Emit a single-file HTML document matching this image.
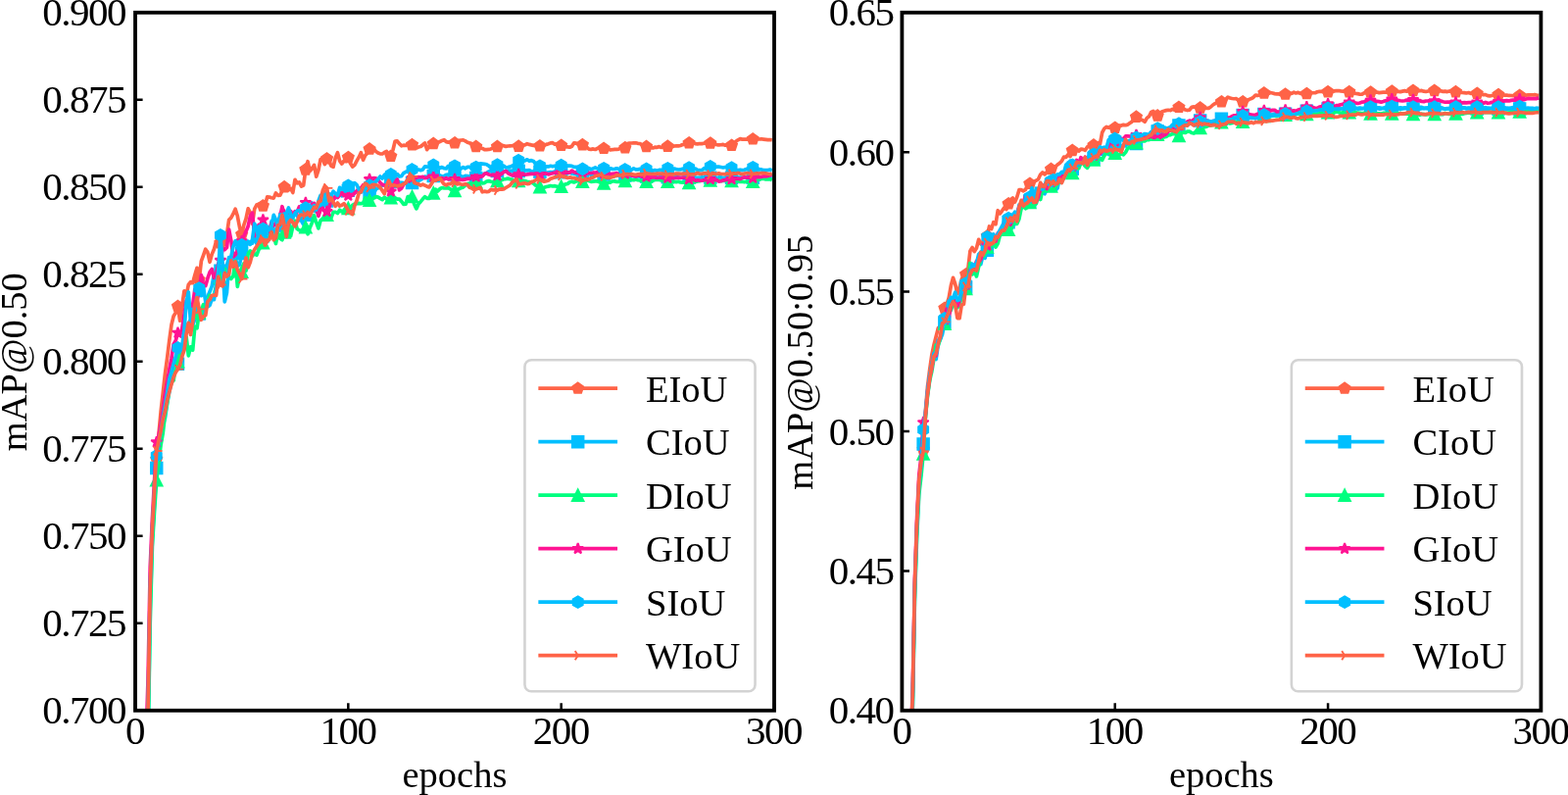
<!DOCTYPE html>
<html lang="en">
<head>
<meta charset="utf-8">
<title>mAP curves for IoU losses</title>
<style>
html,body{margin:0;padding:0;background:#fff;overflow:hidden}
svg{display:block}
text{font-family:"Liberation Serif",serif;font-size:38.5px;fill:#000}
text.t{font-size:41px;letter-spacing:-1.5px}
</style>
</head>
<body>
<svg width="1600" height="811" viewBox="0 0 1600 811">
<rect width="1600" height="811" fill="#fff"/>
<clipPath id="clipa"><rect x="138" y="12.8" width="652" height="712"/></clipPath>
<g clip-path="url(#clipa)">
<polyline points="138,760.4 140.17,760.4 142.35,760.4 144.52,760.4 146.69,760.4 148.87,760.4 151.04,724.8 153.21,600.2 155.39,539.68 157.56,504.22 159.73,468.48 161.91,443.56 164.08,420.06 166.25,400.84 168.43,381.26 170.6,365.24 172.77,347.44 174.95,331.42 177.12,322.52 179.29,318.96 181.47,312.55 183.64,327.15 185.81,311.84 187.99,296.89 190.16,301.16 192.33,290.48 194.51,287.76 196.68,288.7 198.85,280.49 201.03,273.39 203.2,285.5 205.37,266.27 207.55,260.37 209.72,254.17 211.89,257.36 214.07,267.34 216.24,259.36 218.41,254.17 220.59,246.25 222.76,245.27 224.93,247.76 227.11,248.88 229.28,249.18 231.45,239.24 233.63,224.26 235.8,222.11 237.97,218.21 240.15,213.23 242.32,220.32 244.49,231.74 246.67,239.22 248.84,229.51 251.01,223.12 253.19,212.87 255.36,216.91 257.53,228.18 259.71,213.18 261.88,209.04 264.05,208.24 266.23,210.51 268.4,210.02 270.57,209.05 272.75,200.8 274.92,201.12 277.09,201.74 279.27,202.1 281.44,196.9 283.61,199.34 285.79,199.23 287.96,194.44 290.13,190.8 292.31,190.41 294.48,193.85 296.65,192.18 298.83,196.5 301,183.32 303.17,186.86 305.35,185.81 307.52,190.14 309.69,189.02 311.87,173 314.04,164.72 316.21,174.43 318.39,171.98 320.56,168.37 322.73,180.12 324.91,173.55 327.08,162.68 329.25,161.47 331.43,167.52 333.6,161.96 335.77,164 337.95,169.32 340.12,170.19 342.29,160.95 344.47,155.75 346.64,164.15 348.81,167.09 350.99,164 353.16,164.54 355.33,160.68 357.51,166.53 359.68,170.15 361.85,168.26 364.03,164.19 366.2,160.42 368.37,155.75 370.55,163.14 372.72,158.5 374.89,156.27 377.07,152.05 379.24,153.22 381.41,151.62 383.59,154.51 385.76,156.01 387.93,156.89 390.11,156.98 392.28,155.51 394.45,154.51 396.63,158.29 398.8,159.45 400.97,153.01 403.15,144.04 405.32,143.9 407.49,146.69 409.67,148.77 411.84,148.17 414.01,148.34 416.19,147.07 418.36,147.12 420.53,147.73 422.71,149.89 424.88,150.97 427.05,150.04 429.23,149.54 431.4,147.76 433.57,145.89 435.75,152.67 437.92,149 440.09,146.71 442.27,146.57 444.44,146.91 446.61,145.42 448.79,144.59 450.96,143.42 453.13,142.64 455.31,144.64 457.48,145.16 459.65,144.93 461.83,144.65 464,145.89 466.17,144.74 468.35,143.4 470.52,142.98 472.69,142.8 474.87,143.85 477.04,145.28 479.21,145.89 481.39,146.44 483.56,149.95 485.73,149.58 487.91,150.15 490.08,150.87 492.25,151.43 494.43,152.67 496.6,152.67 498.77,152.46 500.95,151.93 503.12,150.81 505.29,150.43 507.47,149.58 509.64,149.44 511.81,148.64 513.99,148.72 516.16,149.37 518.33,148.97 520.51,148.8 522.68,148.7 524.85,148.55 527.03,149.24 529.2,149.34 531.37,149.58 533.55,148.46 535.72,147.79 537.89,146.63 540.07,147.4 542.24,147.92 544.41,148.34 546.59,148.76 548.76,148.41 550.93,148.97 553.11,148.4 555.28,148.32 557.45,147.37 559.63,146.72 561.8,145.89 563.97,145.69 566.15,147.23 568.32,146.95 570.49,147.95 572.67,148.35 574.84,148.19 577.01,149.59 579.19,149.83 581.36,150.2 583.53,149.2 585.71,145.89 587.88,146.17 590.05,147.21 592.23,148.19 594.4,147.73 596.57,148.58 598.75,150.19 600.92,152.05 603.09,152.35 605.27,151.93 607.44,152.52 609.61,151.29 611.79,151.15 613.96,150.86 616.13,151.43 618.31,151.39 620.48,151.51 622.65,152.88 624.83,152.7 627,152.32 629.17,152.39 631.35,152.09 633.52,151.34 635.69,151.1 637.87,150.82 640.04,146.5 642.21,146.13 644.39,146 646.56,145.89 648.73,145.78 650.91,146.32 653.08,146.5 655.25,148.01 657.43,148.16 659.6,149.58 661.77,149.8 663.95,150.47 666.12,151 668.29,150.2 670.47,150.33 672.64,149.62 674.81,150.43 676.99,149.12 679.16,148.7 681.33,149.34 683.51,149.41 685.68,149.66 687.85,148.99 690.03,148.92 692.2,148.97 694.37,148.45 696.55,147.59 698.72,147.05 700.89,146.88 703.07,145.89 705.24,145.61 707.41,145.82 709.59,146.63 711.76,146.85 713.93,146.5 716.11,146.67 718.28,146.18 720.45,146 722.63,146.48 724.8,146.13 726.97,146.42 729.15,146.84 731.32,147.61 733.49,147.93 735.67,147.73 737.84,147.4 740.01,148.25 742.19,147.73 744.36,147.98 746.53,148.35 748.71,146.54 750.88,144.24 753.05,142.8 755.23,141.68 757.4,142.11 759.57,142.02 761.75,142.18 763.92,141.78 766.09,142.91 768.27,141.94 770.44,142.28 772.61,141.93 774.79,142.01 776.96,141.77 779.13,142.05 781.31,142.31 783.48,142.57 785.65,142.59 787.83,142.74" fill="none" stroke="#ff6347" stroke-width="3.7" stroke-linejoin="round" stroke-linecap="butt"/>
<path d="M159.73 462.7L165.23 466.7L163.13 473.15L156.34 473.15L154.24 466.7ZM181.47 306.78L186.96 310.77L184.86 317.22L178.07 317.22L175.97 310.77ZM203.2 279.72L208.69 283.71L206.59 290.17L199.81 290.17L197.71 283.71ZM224.93 241.99L230.43 245.98L228.33 252.43L221.54 252.43L219.44 245.98ZM246.67 233.44L252.16 237.43L250.06 243.89L243.27 243.89L241.17 237.43ZM268.4 204.25L273.89 208.24L271.79 214.7L265.01 214.7L262.91 208.24ZM290.13 185.03L295.63 189.02L293.53 195.47L286.74 195.47L284.64 189.02ZM311.87 167.23L317.36 171.22L315.26 177.67L308.47 177.67L306.37 171.22ZM333.6 156.19L339.09 160.18L336.99 166.64L330.21 166.64L328.11 160.18ZM355.33 154.9L360.83 158.89L358.73 165.35L351.94 165.35L349.84 158.89ZM377.07 146.27L382.56 150.26L380.46 156.72L373.67 156.72L371.57 150.26ZM398.8 153.67L404.29 157.66L402.19 164.12L395.41 164.12L393.31 157.66ZM420.53 141.96L426.03 145.95L423.93 152.41L417.14 152.41L415.04 145.95ZM442.27 140.79L447.76 144.78L445.66 151.24L438.87 151.24L436.77 144.78ZM464 140.11L469.49 144.1L467.39 150.56L460.61 150.56L458.51 144.1ZM485.73 143.81L491.23 147.8L489.13 154.26L482.34 154.26L480.24 147.8ZM507.47 143.81L512.96 147.8L510.86 154.26L504.07 154.26L501.97 147.8ZM529.2 143.56L534.69 147.55L532.59 154.01L525.81 154.01L523.71 147.55ZM550.93 143.19L556.43 147.18L554.33 153.64L547.54 153.64L545.44 147.18ZM572.67 142.58L578.16 146.57L576.06 153.02L569.27 153.02L567.17 146.57ZM594.4 141.96L599.89 145.95L597.79 152.41L591.01 152.41L588.91 145.95ZM616.13 145.66L621.63 149.65L619.53 156.11L612.74 156.11L610.64 149.65ZM637.87 145.04L643.36 149.03L641.26 155.49L634.47 155.49L632.37 149.03ZM659.6 143.81L665.09 147.8L662.99 154.26L656.21 154.26L654.11 147.8ZM681.33 143.56L686.83 147.55L684.73 154.01L677.94 154.01L675.84 147.55ZM703.07 140.11L708.56 144.1L706.46 150.56L699.67 150.56L697.57 144.1ZM724.8 140.36L730.29 144.35L728.19 150.8L721.41 150.8L719.31 144.35ZM746.53 142.58L752.03 146.57L749.93 153.02L743.14 153.02L741.04 146.57ZM768.27 136.17L773.76 140.16L771.66 146.61L764.87 146.61L762.77 140.16Z" fill="#ff6347" stroke="#ff6347" stroke-width="1.93" stroke-linejoin="miter"/>
<polyline points="138,760.4 140.17,760.4 142.35,760.4 144.52,760.4 146.69,760.4 148.87,760.4 151.04,756.84 153.21,621.56 155.39,550.36 157.56,514.61 159.73,477.38 161.91,463.49 164.08,447.12 166.25,433.35 168.43,426.52 170.6,411.52 172.77,399.59 174.95,390.16 177.12,382.01 179.29,377.7 181.47,371.29 183.64,368.8 185.81,361.68 187.99,347.44 190.16,333.2 192.33,329.64 194.51,326.29 196.68,331.42 198.85,325.77 201.03,315.4 203.2,320.03 205.37,319.18 207.55,313.48 209.72,309.68 211.89,302.75 214.07,297.55 216.24,291.79 218.41,280.13 220.59,291.61 222.76,275.87 224.93,276.24 227.11,282.35 229.28,276.17 231.45,270.7 233.63,262.63 235.8,271.49 237.97,266.36 240.15,262.68 242.32,271.49 244.49,270.23 246.67,258.44 248.84,251.59 251.01,247.46 253.19,248.09 255.36,248.14 257.53,248.14 259.71,240.91 261.88,248.38 264.05,246.49 266.23,240.6 268.4,240.64 270.57,235.43 272.75,240.36 274.92,239.16 277.09,225.56 279.27,235.85 281.44,238.2 283.61,226.43 285.79,234.78 287.96,234.77 290.13,229.96 292.31,226.02 294.48,224.46 296.65,224.23 298.83,219.26 301,218.31 303.17,219.59 305.35,224.51 307.52,225.28 309.69,229.01 311.87,219.28 314.04,224.07 316.21,215.39 318.39,206.96 320.56,215.23 322.73,215.92 324.91,213.24 327.08,206.97 329.25,209.89 331.43,207.86 333.6,205.04 335.77,205.34 337.95,199.11 340.12,203.48 342.29,201.52 344.47,198.83 346.64,196.15 348.81,199.81 350.99,195.13 353.16,194.09 355.33,194.36 357.51,194.24 359.68,197.19 361.85,196.98 364.03,195.01 366.2,196.14 368.37,196.26 370.55,194.05 372.72,192.86 374.89,195.56 377.07,196.5 379.24,197 381.41,197.49 383.59,192.86 385.76,191.91 387.93,190.8 390.11,188.91 392.28,188.57 394.45,186.85 396.63,186.1 398.8,185.46 400.97,185.89 403.15,185.39 405.32,183.72 407.49,186.45 409.67,186.38 411.84,186.54 414.01,186.49 416.19,184.65 418.36,185.47 420.53,186.53 422.71,185.6 424.88,183.87 427.05,184.47 429.23,183.4 431.4,181.9 433.57,180.12 435.75,180.68 437.92,180.85 440.09,180.19 442.27,179.41 444.44,178.89 446.61,178.56 448.79,178.77 450.96,179.89 453.13,179.65 455.31,178.33 457.48,178.06 459.65,178.6 461.83,177.86 464,177.98 466.17,178.61 468.35,179.26 470.52,179.82 472.69,180.45 474.87,179.47 477.04,179.58 479.21,180.13 481.39,181.55 483.56,182.14 485.73,181.54 487.91,180.83 490.08,179.56 492.25,178.96 494.43,177.3 496.6,176.56 498.77,174.88 500.95,174.49 503.12,174.94 505.29,174.34 507.47,174.42 509.64,174 511.81,174.46 513.99,174.75 516.16,174.85 518.33,174.17 520.51,174.16 522.68,174.28 524.85,174.99 527.03,174.55 529.2,174.42 531.37,173.77 533.55,173.95 535.72,173.92 537.89,173.88 540.07,173.71 542.24,174.96 544.41,174.53 546.59,173.82 548.76,175.16 550.93,175.14 553.11,175.35 555.28,176.13 557.45,176.47 559.63,175.9 561.8,175.58 563.97,175.76 566.15,174.95 568.32,175.54 570.49,175.63 572.67,175.85 574.84,174.91 577.01,176.62 579.19,176.71 581.36,175.92 583.53,177.03 585.71,177.36 587.88,177.6 590.05,177.83 592.23,177.88 594.4,177.27 596.57,176.72 598.75,176.51 600.92,177.24 603.09,178.46 605.27,177.96 607.44,177.86 609.61,177.66 611.79,177.85 613.96,178.75 616.13,177.98 618.31,178.96 620.48,178.82 622.65,178.27 624.83,178.21 627,177.77 629.17,179.44 631.35,178.93 633.52,178.49 635.69,178.99 637.87,179.05 640.04,179.54 642.21,179.14 644.39,179.05 646.56,179.82 648.73,180.01 650.91,179.87 653.08,180.1 655.25,179.56 657.43,179.79 659.6,180.12 661.77,179.52 663.95,180.07 666.12,180.4 668.29,180.82 670.47,180.94 672.64,180.98 674.81,180.59 676.99,181 679.16,180.85 681.33,180.83 683.51,181.04 685.68,181.04 687.85,180.39 690.03,180.15 692.2,181.11 694.37,181.22 696.55,181.25 698.72,181.27 700.89,180.59 703.07,181.19 705.24,180.62 707.41,180.35 709.59,181.13 711.76,181.31 713.93,181.2 716.11,180.8 718.28,181.09 720.45,180.96 722.63,180.68 724.8,181.19 726.97,180.88 729.15,181.42 731.32,181.85 733.49,180.97 735.67,180.89 737.84,181.47 740.01,181.48 742.19,181.41 744.36,181.83 746.53,181.19 748.71,181.43 750.88,181.38 753.05,180.97 755.23,181.14 757.4,181.01 759.57,180.98 761.75,181.13 763.92,181.17 766.09,180.56 768.27,181.19 770.44,180.62 772.61,181.23 774.79,180.93 776.96,180.89 779.13,181.21 781.31,181.89 783.48,180.68 785.65,181.07 787.83,180.83" fill="none" stroke="#00bfff" stroke-width="3.7" stroke-linejoin="round" stroke-linecap="butt"/>
<path d="M153.96 471.61L165.51 471.61L165.51 483.16L153.96 483.16ZM175.69 365.52L187.24 365.52L187.24 377.07L175.69 377.07ZM197.42 314.25L208.97 314.25L208.97 325.8L197.42 325.8ZM219.16 270.47L230.71 270.47L230.71 282.02L219.16 282.02ZM240.89 252.67L252.44 252.67L252.44 264.22L240.89 264.22ZM262.62 234.87L274.17 234.87L274.17 246.42L262.62 246.42ZM284.36 224.19L295.91 224.19L295.91 235.74L284.36 235.74ZM306.09 213.51L317.64 213.51L317.64 225.06L306.09 225.06ZM327.83 199.27L339.38 199.27L339.38 210.82L327.83 210.82ZM349.56 188.59L361.11 188.59L361.11 200.14L349.56 200.14ZM371.29 190.72L382.84 190.72L382.84 202.27L371.29 202.27ZM393.03 179.68L404.57 179.68L404.57 191.23L393.03 191.23ZM414.76 180.75L426.31 180.75L426.31 192.3L414.76 192.3ZM436.49 173.63L448.04 173.63L448.04 185.18L436.49 185.18ZM458.23 172.21L469.77 172.21L469.77 183.76L458.23 183.76ZM479.96 175.77L491.51 175.77L491.51 187.32L479.96 187.32ZM501.69 168.65L513.24 168.65L513.24 180.2L501.69 180.2ZM523.43 168.65L534.98 168.65L534.98 180.2L523.43 180.2ZM545.16 169.36L556.71 169.36L556.71 180.91L545.16 180.91ZM566.89 170.07L578.44 170.07L578.44 181.62L566.89 181.62ZM588.62 171.5L600.17 171.5L600.17 183.05L588.62 183.05ZM610.36 172.21L621.91 172.21L621.91 183.76L610.36 183.76ZM632.09 173.28L643.64 173.28L643.64 184.83L632.09 184.83ZM653.83 174.35L665.38 174.35L665.38 185.9L653.83 185.9ZM675.56 175.06L687.11 175.06L687.11 186.61L675.56 186.61ZM697.29 175.41L708.84 175.41L708.84 186.96L697.29 186.96ZM719.02 175.41L730.57 175.41L730.57 186.96L719.02 186.96ZM740.76 175.41L752.31 175.41L752.31 186.96L740.76 186.96ZM762.49 175.41L774.04 175.41L774.04 186.96L762.49 186.96Z" fill="#00bfff" stroke="#00bfff" stroke-width="1.93" stroke-linejoin="miter"/>
<polyline points="138,760.4 140.17,760.4 142.35,760.4 144.52,760.4 146.69,760.4 148.87,760.4 151.04,760.4 153.21,635.8 155.39,557.48 157.56,521.58 159.73,489.84 161.91,471.6 164.08,454.24 166.25,442.04 168.43,423.13 170.6,411.52 172.77,397.5 174.95,390.16 177.12,388.23 179.29,372.35 181.47,368.8 183.64,361.17 185.81,353.04 187.99,346.4 190.16,343.88 192.33,362.91 194.51,353.85 196.68,357.16 198.85,333.2 201.03,334.69 203.2,318.96 205.37,316.77 207.55,310.56 209.72,310.25 211.89,307.11 214.07,301.23 216.24,303.63 218.41,300.48 220.59,291.72 222.76,290.98 224.93,283.36 227.11,284.54 229.28,274.37 231.45,277 233.63,282.31 235.8,284.43 237.97,281.54 240.15,266.34 242.32,292.36 244.49,280.86 246.67,277.31 248.84,269 251.01,276.23 253.19,258.77 255.36,256.02 257.53,260.98 259.71,258.8 261.88,260.24 264.05,254.69 266.23,251.39 268.4,247.76 270.57,243.15 272.75,245.44 274.92,241.22 277.09,239.53 279.27,240.38 281.44,248.52 283.61,237.76 285.79,243.16 287.96,244.75 290.13,237.08 292.31,234.36 294.48,228.88 296.65,240.9 298.83,230.97 301,225.24 303.17,233.52 305.35,234.82 307.52,235.43 309.69,235.48 311.87,231.74 314.04,238.82 316.21,232.17 318.39,227.28 320.56,219.69 322.73,226.93 324.91,232.89 327.08,224.94 329.25,223.2 331.43,219.85 333.6,219.28 335.77,223.39 337.95,222.05 340.12,216.45 342.29,216.23 344.47,217.5 346.64,214.18 348.81,215.96 350.99,214.45 353.16,211.53 355.33,212.43 357.51,212.01 359.68,209.46 361.85,208.18 364.03,207.57 366.2,207.39 368.37,207.75 370.55,207.11 372.72,201.74 374.89,204.28 377.07,204.31 379.24,203.87 381.41,201.81 383.59,200.65 385.76,201.1 387.93,202.43 390.11,203.7 392.28,201.26 394.45,202.95 396.63,203.78 398.8,201.85 400.97,199.97 403.15,201.89 405.32,203.03 407.49,203.08 409.67,205.41 411.84,208.4 414.01,208.12 416.19,200.62 418.36,200.62 420.53,200.62 422.71,208.28 424.88,212.94 427.05,207.97 429.23,205.66 431.4,203.08 433.57,200.71 435.75,202.37 437.92,202.43 440.09,200.35 442.27,196.94 444.44,193.22 446.61,195.05 448.79,192.72 450.96,191.53 453.13,191.99 455.31,191.92 457.48,191.66 459.65,193.05 461.83,194.68 464,194.45 466.17,193.75 468.35,192.73 470.52,191.68 472.69,190.93 474.87,188.92 477.04,187.44 479.21,187 481.39,187.58 483.56,186.03 485.73,185.82 487.91,187.35 490.08,185.82 492.25,186.8 494.43,186.62 496.6,184.96 498.77,184.62 500.95,185.3 503.12,185.51 505.29,184.72 507.47,184.59 509.64,184.2 511.81,183.69 513.99,182.78 516.16,182.56 518.33,182.13 520.51,182.7 522.68,183.26 524.85,184.41 527.03,184.95 529.2,184.59 531.37,184.74 533.55,184.19 535.72,184.48 537.89,185.21 540.07,185.61 542.24,186.22 544.41,187.03 546.59,189.08 548.76,189.78 550.93,190.76 553.11,191.65 555.28,191.26 557.45,190.51 559.63,190.12 561.8,189.52 563.97,190.01 566.15,189.69 568.32,190.3 570.49,190.95 572.67,190.14 574.84,189.37 577.01,187.89 579.19,187.45 581.36,185.7 583.53,185.21 585.71,185.97 587.88,185.07 590.05,184.26 592.23,185.3 594.4,185.21 596.57,184.03 598.75,184.16 600.92,184.51 603.09,185.35 605.27,185.14 607.44,184.93 609.61,184.9 611.79,185.7 613.96,186.7 616.13,187.06 618.31,187.38 620.48,186.31 622.65,186.19 624.83,184.99 627,184.9 629.17,185.36 631.35,185.28 633.52,185.6 635.69,184.87 637.87,184.59 640.04,183.36 642.21,183.09 644.39,183.46 646.56,183.72 648.73,182.99 650.91,183.72 653.08,184.02 655.25,184.75 657.43,185.54 659.6,185.21 661.77,185.29 663.95,185.88 666.12,184.27 668.29,183.51 670.47,183.36 672.64,183.35 674.81,183.96 676.99,184.67 679.16,185.29 681.33,185.21 683.51,185.23 685.68,185.47 687.85,185.46 690.03,185.58 692.2,185.21 694.37,185.97 696.55,186.14 698.72,185.79 700.89,186.61 703.07,186.44 705.24,186.18 707.41,186.08 709.59,185.5 711.76,184.97 713.93,184.59 716.11,184.24 718.28,184.19 720.45,184.77 722.63,184.55 724.8,183.98 726.97,183.94 729.15,185.09 731.32,184.57 733.49,183.83 735.67,184.59 737.84,184.43 740.01,184.51 742.19,184.34 744.36,184.57 746.53,184.59 748.71,184.2 750.88,184.79 753.05,184.66 755.23,185.51 757.4,185.21 759.57,185.69 761.75,185.2 763.92,185.38 766.09,185.5 768.27,185.21 770.44,184.58 772.61,183.5 774.79,183.24 776.96,182.33 779.13,182.24 781.31,182.85 783.48,182.94 785.65,182.87 787.83,183.68" fill="none" stroke="#00ff7f" stroke-width="3.7" stroke-linejoin="round" stroke-linecap="butt"/>
<path d="M159.73 484.06L153.96 495.61L165.51 495.61ZM181.47 363.02L175.69 374.57L187.24 374.57ZM203.2 313.19L197.42 324.74L208.97 324.74ZM224.93 277.59L219.16 289.14L230.71 289.14ZM246.67 271.53L240.89 283.08L252.44 283.08ZM268.4 241.99L262.62 253.54L274.17 253.54ZM290.13 231.31L284.36 242.86L295.91 242.86ZM311.87 225.96L306.09 237.51L317.64 237.51ZM333.6 213.51L327.83 225.06L339.38 225.06ZM355.33 206.66L349.56 218.21L361.11 218.21ZM377.07 198.54L371.29 210.09L382.84 210.09ZM398.8 196.07L393.03 207.62L404.57 207.62ZM420.53 194.84L414.76 206.39L426.31 206.39ZM442.27 191.17L436.49 202.72L448.04 202.72ZM464 188.68L458.23 200.23L469.77 200.23ZM485.73 180.05L479.96 191.6L491.51 191.6ZM507.47 178.82L501.69 190.37L513.24 190.37ZM529.2 178.82L523.43 190.37L534.98 190.37ZM550.93 184.98L545.16 196.53L556.71 196.53ZM572.67 184.36L566.89 195.91L578.44 195.91ZM594.4 179.43L588.62 190.98L600.17 190.98ZM616.13 181.28L610.36 192.83L621.91 192.83ZM637.87 178.82L632.09 190.37L643.64 190.37ZM659.6 179.43L653.83 190.98L665.38 190.98ZM681.33 179.43L675.56 190.98L687.11 190.98ZM703.07 180.67L697.29 192.22L708.84 192.22ZM724.8 178.2L719.02 189.75L730.57 189.75ZM746.53 178.82L740.76 190.37L752.31 190.37ZM768.27 179.43L762.49 190.98L774.04 190.98Z" fill="#00ff7f" stroke="#00ff7f" stroke-width="1.93" stroke-linejoin="miter"/>
<polyline points="138,760.4 140.17,760.4 142.35,760.4 144.52,760.4 146.69,760.4 148.87,760.4 151.04,692.76 153.21,578.84 155.39,529 157.56,490.46 159.73,451.04 161.91,444.4 164.08,432.88 166.25,418.77 168.43,402.07 170.6,390.16 172.77,376.9 174.95,365.24 177.12,351.19 179.29,347.44 181.47,339.61 183.64,342.1 185.81,334.98 187.99,320.74 190.16,306.5 192.33,311.84 194.51,317.6 196.68,310.65 198.85,295.02 201.03,307.01 203.2,296.89 205.37,280.65 207.55,290.56 209.72,291.65 211.89,283.94 214.07,277.57 216.24,274.57 218.41,283.46 220.59,279.59 222.76,269.63 224.93,265.56 227.11,254.05 229.28,254.62 231.45,252.5 233.63,234.16 235.8,245.33 237.97,262 240.15,259.9 242.32,255.34 244.49,246.35 246.67,245.98 248.84,240.69 251.01,236.13 253.19,230.7 255.36,220.7 257.53,217.07 259.71,240.64 261.88,233.57 264.05,229.49 266.23,230.47 268.4,224.26 270.57,228.86 272.75,237.39 274.92,234.86 277.09,227.8 279.27,229.96 281.44,227.33 283.61,227.85 285.79,221.09 287.96,210.71 290.13,219.28 292.31,223.54 294.48,221 296.65,215.36 298.83,219.37 301,215.72 303.17,216.34 305.35,210.82 307.52,210.9 309.69,210.76 311.87,206.82 314.04,211.45 316.21,213.41 318.39,208.25 320.56,207.37 322.73,212.16 324.91,220.4 327.08,213.61 329.25,212.28 331.43,215.75 333.6,215.72 335.77,212.29 337.95,203.66 340.12,203.84 342.29,199.83 344.47,201.48 346.64,199.04 348.81,196.43 350.99,199.62 353.16,198.71 355.33,199.44 357.51,200.01 359.68,199.29 361.85,196.94 364.03,194.73 366.2,192.25 368.37,191.94 370.55,188.65 372.72,188.78 374.89,185.43 377.07,182.87 379.24,185.04 381.41,181.63 383.59,181.94 385.76,183.63 387.93,186.48 390.11,188.38 392.28,189.03 394.45,190.8 396.63,192.15 398.8,195.19 400.97,190.03 403.15,186.2 405.32,182.87 407.49,193.96 409.67,192.11 411.84,188.17 414.01,186.4 416.19,182.87 418.36,183.52 420.53,181.63 422.71,182.4 424.88,181.14 427.05,180.66 429.23,180.75 431.4,180.4 433.57,181.61 435.75,181.28 437.92,179.69 440.09,180.68 442.27,180.28 444.44,179.86 446.61,181.55 448.79,182.04 450.96,181.63 453.13,182.78 455.31,181.57 457.48,182.82 459.65,182.43 461.83,181.95 464,182.87 466.17,183.11 468.35,182.8 470.52,183.31 472.69,183.33 474.87,182.87 477.04,182.17 479.21,182.47 481.39,181.44 483.56,180.67 485.73,180.4 487.91,180.73 490.08,180.4 492.25,179.68 494.43,177.32 496.6,176.7 498.77,178.06 500.95,178.59 503.12,178.6 505.29,179.36 507.47,179.17 509.64,177.52 511.81,177.19 513.99,175.49 516.16,174.24 518.33,176.57 520.51,177.8 522.68,178.8 524.85,178.92 527.03,177.93 529.2,177.94 531.37,177.94 533.55,178.07 535.72,178.16 537.89,177.95 540.07,177.64 542.24,177.32 544.41,177.47 546.59,177.52 548.76,177.93 550.93,177.94 553.11,177.69 555.28,176.9 557.45,176.98 559.63,177.89 561.8,177.24 563.97,176.7 566.15,176.15 568.32,176.23 570.49,175.82 572.67,176.09 574.84,176.18 577.01,176.13 579.19,175.81 581.36,176.18 583.53,174.12 585.71,175.47 587.88,176.14 590.05,176.64 592.23,176.09 594.4,176.09 596.57,176.87 598.75,177.13 600.92,176.34 603.09,176.3 605.27,175.97 607.44,176.15 609.61,175.81 611.79,177.09 613.96,176.57 616.13,176.7 618.31,177.31 620.48,176.53 622.65,177.6 624.83,177.27 627,177.18 629.17,176.6 631.35,177.6 633.52,177.26 635.69,177 637.87,177.32 640.04,177.94 642.21,178.26 644.39,179.13 646.56,179.19 648.73,179.93 650.91,179.18 653.08,179.04 655.25,180.31 657.43,179.82 659.6,180.4 661.77,181.18 663.95,181.16 666.12,180.63 668.29,180.86 670.47,181.47 672.64,181.02 674.81,181.27 676.99,181.63 679.16,182.09 681.33,181.63 683.51,181.14 685.68,181.77 687.85,181.63 690.03,181.43 692.2,181.17 694.37,181.51 696.55,181.02 698.72,181.27 700.89,181.88 703.07,182.87 705.24,182.35 707.41,182.92 709.59,184.24 711.76,183.7 713.93,184.1 716.11,184.26 718.28,183.76 720.45,183.7 722.63,182.96 724.8,182.87 726.97,183.67 729.15,183.53 731.32,183.52 733.49,185.12 735.67,184.71 737.84,183.95 740.01,183.6 742.19,183 744.36,183.08 746.53,182.87 748.71,182.59 750.88,182.39 753.05,181.99 755.23,182.63 757.4,181.63 759.57,180.79 761.75,181.21 763.92,181.25 766.09,181.41 768.27,181.63 770.44,181.04 772.61,180.59 774.79,180.61 776.96,180.35 779.13,179.74 781.31,179.81 783.48,179.68 785.65,178.72 787.83,178.7" fill="none" stroke="#ff1493" stroke-width="3.7" stroke-linejoin="round" stroke-linecap="butt"/>
<path d="M159.73 445.26L161.03 449.25L165.23 449.25L161.83 451.72L163.13 455.71L159.73 453.24L156.34 455.71L157.64 451.72L154.24 449.25L158.44 449.25ZM181.47 333.83L182.76 337.82L186.96 337.82L183.56 340.29L184.86 344.28L181.47 341.81L178.07 344.28L179.37 340.29L175.97 337.82L180.17 337.82ZM203.2 291.11L204.5 295.1L208.69 295.1L205.3 297.57L206.59 301.56L203.2 299.09L199.81 301.56L201.1 297.57L197.71 295.1L201.9 295.1ZM224.93 259.79L226.23 263.78L230.43 263.78L227.03 266.24L228.33 270.23L224.93 267.77L221.54 270.23L222.84 266.24L219.44 263.78L223.64 263.78ZM246.67 240.2L247.96 244.2L252.16 244.2L248.76 246.66L250.06 250.65L246.67 248.19L243.27 250.65L244.57 246.66L241.17 244.2L245.37 244.2ZM268.4 218.49L269.7 222.48L273.89 222.48L270.5 224.95L271.79 228.94L268.4 226.47L265.01 228.94L266.3 224.95L262.91 222.48L267.1 222.48ZM290.13 213.51L291.43 217.5L295.63 217.5L292.23 219.96L293.53 223.95L290.13 221.49L286.74 223.95L288.04 219.96L284.64 217.5L288.84 217.5ZM311.87 201.04L313.16 205.04L317.36 205.04L313.96 207.5L315.26 211.49L311.87 209.03L308.47 211.49L309.77 207.5L306.37 205.04L310.57 205.04ZM333.6 209.95L334.9 213.94L339.09 213.94L335.7 216.4L336.99 220.39L333.6 217.93L330.21 220.39L331.5 216.4L328.11 213.94L332.3 213.94ZM355.33 193.66L356.63 197.66L360.83 197.66L357.43 200.12L358.73 204.11L355.33 201.65L351.94 204.11L353.24 200.12L349.84 197.66L354.04 197.66ZM377.07 177.09L378.36 181.08L382.56 181.08L379.16 183.55L380.46 187.54L377.07 185.07L373.67 187.54L374.97 183.55L371.57 181.08L375.77 181.08ZM398.8 189.42L400.1 193.41L404.29 193.41L400.9 195.87L402.19 199.86L398.8 197.4L395.41 199.86L396.7 195.87L393.31 193.41L397.5 193.41ZM420.53 175.86L421.83 179.85L426.03 179.85L422.63 182.31L423.93 186.31L420.53 183.84L417.14 186.31L418.44 182.31L415.04 179.85L419.24 179.85ZM442.27 174.51L443.56 178.5L447.76 178.5L444.36 180.96L445.66 184.95L442.27 182.49L438.87 184.95L440.17 180.96L436.77 178.5L440.97 178.5ZM464 177.09L465.3 181.08L469.49 181.08L466.1 183.55L467.39 187.54L464 185.07L460.61 187.54L461.9 183.55L458.51 181.08L462.7 181.08ZM485.73 174.63L487.03 178.62L491.23 178.62L487.83 181.08L489.13 185.07L485.73 182.61L482.34 185.07L483.64 181.08L480.24 178.62L484.44 178.62ZM507.47 173.39L508.76 177.38L512.96 177.38L509.56 179.85L510.86 183.84L507.47 181.37L504.07 183.84L505.37 179.85L501.97 177.38L506.17 177.38ZM529.2 172.16L530.5 176.15L534.69 176.15L531.3 178.62L532.59 182.61L529.2 180.14L525.81 182.61L527.1 178.62L523.71 176.15L527.9 176.15ZM550.93 172.16L552.23 176.15L556.43 176.15L553.03 178.62L554.33 182.61L550.93 180.14L547.54 182.61L548.84 178.62L545.44 176.15L549.64 176.15ZM572.67 170.31L573.96 174.3L578.16 174.3L574.76 176.77L576.06 180.76L572.67 178.29L569.27 180.76L570.57 176.77L567.17 174.3L571.37 174.3ZM594.4 170.31L595.7 174.3L599.89 174.3L596.5 176.77L597.79 180.76L594.4 178.29L591.01 180.76L592.3 176.77L588.91 174.3L593.1 174.3ZM616.13 170.93L617.43 174.92L621.63 174.92L618.23 177.38L619.53 181.37L616.13 178.91L612.74 181.37L614.04 177.38L610.64 174.92L614.84 174.92ZM637.87 171.54L639.16 175.53L643.36 175.53L639.96 178L641.26 181.99L637.87 179.52L634.47 181.99L635.77 178L632.37 175.53L636.57 175.53ZM659.6 174.63L660.9 178.62L665.09 178.62L661.7 181.08L662.99 185.07L659.6 182.61L656.21 185.07L657.5 181.08L654.11 178.62L658.3 178.62ZM681.33 175.86L682.63 179.85L686.83 179.85L683.43 182.31L684.73 186.31L681.33 183.84L677.94 186.31L679.24 182.31L675.84 179.85L680.04 179.85ZM703.07 177.09L704.36 181.08L708.56 181.08L705.16 183.55L706.46 187.54L703.07 185.07L699.67 187.54L700.97 183.55L697.57 181.08L701.77 181.08ZM724.8 177.09L726.1 181.08L730.29 181.08L726.9 183.55L728.19 187.54L724.8 185.07L721.41 187.54L722.7 183.55L719.31 181.08L723.5 181.08ZM746.53 177.09L747.83 181.08L752.03 181.08L748.63 183.55L749.93 187.54L746.53 185.07L743.14 187.54L744.44 183.55L741.04 181.08L745.24 181.08ZM768.27 175.86L769.56 179.85L773.76 179.85L770.36 182.31L771.66 186.31L768.27 183.84L764.87 186.31L766.17 182.31L762.77 179.85L766.97 179.85Z" fill="#ff1493" stroke="#ff1493" stroke-width="1.93" stroke-linejoin="bevel"/>
<polyline points="138,760.4 140.17,760.4 142.35,760.4 144.52,760.4 146.69,760.4 148.87,760.4 151.04,724.8 153.21,600.2 155.39,539.68 157.56,501.58 159.73,464.92 161.91,452.54 164.08,440 166.25,426.26 168.43,413.8 170.6,400.84 172.77,386.67 174.95,379.48 177.12,371.39 179.29,363.46 181.47,354.92 183.64,358.12 185.81,352.78 187.99,336.76 190.16,308.28 192.33,297.96 194.51,328.93 196.68,315.4 198.85,318.96 201.03,301.16 203.2,294.04 205.37,301.72 207.55,293.05 209.72,307.49 211.89,312.85 214.07,311.48 216.24,305 218.41,305.65 220.59,291.8 222.76,276.24 224.93,239.93 227.11,269.12 229.28,307.92 231.45,298.53 233.63,269.28 235.8,262 237.97,251.64 240.15,245.83 242.32,251.18 244.49,258.82 246.67,249.9 248.84,261.46 251.01,252.12 253.19,246.13 255.36,249.39 257.53,244.2 259.71,228.23 261.88,233.53 264.05,243.85 266.23,234.67 268.4,233.52 270.57,247.03 272.75,234.9 274.92,234.23 277.09,230.51 279.27,219.35 281.44,223.96 283.61,230.33 285.79,218.8 287.96,231.68 290.13,222.84 292.31,217.42 294.48,211.99 296.65,218.9 298.83,222.48 301,217.54 303.17,215.09 305.35,214.72 307.52,216.52 309.69,219.61 311.87,212.16 314.04,214.15 316.21,212.63 318.39,212.5 320.56,209.76 322.73,214.01 324.91,205.16 327.08,199.31 329.25,204.56 331.43,208.26 333.6,201.48 335.77,198.52 337.95,199.24 340.12,195.2 342.29,197.47 344.47,199.33 346.64,191.32 348.81,193.04 350.99,193.02 353.16,194.69 355.33,189.38 357.51,189.45 359.68,187.81 361.85,186.53 364.03,188.62 366.2,193.18 368.37,194.36 370.55,192.13 372.72,190.86 374.89,190.24 377.07,189.02 379.24,188.89 381.41,187.85 383.59,185.05 385.76,182.94 387.93,180.06 390.11,182.03 392.28,178.4 394.45,177.23 396.63,176.13 398.8,177.94 400.97,178.87 403.15,178.2 405.32,177.56 407.49,180.04 409.67,179.68 411.84,176.52 414.01,175.31 416.19,174.85 418.36,172.51 420.53,173 422.71,173.61 424.88,173.64 427.05,173.06 429.23,173.77 431.4,173 433.57,169.81 435.75,170.11 437.92,170.25 440.09,168.28 442.27,168.43 444.44,167.66 446.61,170.15 448.79,171.47 450.96,170.54 453.13,171.7 455.31,171.98 457.48,169.23 459.65,169.23 461.83,169.06 464,169.31 466.17,169.76 468.35,170.48 470.52,171.96 472.69,170.54 474.87,171.77 477.04,170.37 479.21,170.4 481.39,171.81 483.56,171.38 485.73,170.54 487.91,169.19 490.08,166.84 492.25,167.08 494.43,167.31 496.6,167.8 498.77,169.02 500.95,171.67 503.12,172.39 505.29,170 507.47,168.07 509.64,168.52 511.81,169.09 513.99,169.04 516.16,170.9 518.33,170.54 520.51,170.07 522.68,169.09 524.85,168.4 527.03,166.28 529.2,163.76 531.37,163.92 533.55,164.04 535.72,163.8 537.89,162.78 540.07,164.07 542.24,163.66 544.41,164.42 546.59,167.38 548.76,167.72 550.93,169.31 553.11,170.52 555.28,169.94 557.45,169.97 559.63,169.97 561.8,169.31 563.97,169.81 566.15,169.27 568.32,168.92 570.49,169.03 572.67,168.69 574.84,168.8 577.01,168.13 579.19,169.18 581.36,169.18 583.53,169.31 585.71,170.38 587.88,170.44 590.05,170.56 592.23,171.36 594.4,172.39 596.57,171.61 598.75,171.48 600.92,171.52 603.09,172.91 605.27,171.93 607.44,170.98 609.61,171.91 611.79,173.24 613.96,172.67 616.13,171.77 618.31,172.75 620.48,172.42 622.65,171.89 624.83,172.35 627,172.49 629.17,171.77 631.35,172.36 633.52,173.26 635.69,172.93 637.87,173 640.04,173 642.21,173.11 644.39,173.35 646.56,171.83 648.73,172.86 650.91,172.85 653.08,172.44 655.25,172.06 657.43,172.53 659.6,172.39 661.77,173.02 663.95,173.1 666.12,174.27 668.29,173.65 670.47,174.24 672.64,173.44 674.81,173.27 676.99,173.68 679.16,173.01 681.33,171.77 683.51,171.55 685.68,172.18 687.85,172.16 690.03,172.65 692.2,173 694.37,172.96 696.55,172.18 698.72,171.62 700.89,171.82 703.07,171.16 705.24,171.64 707.41,171.89 709.59,172.09 711.76,173.52 713.93,173.62 716.11,173.75 718.28,171.74 720.45,171.18 722.63,171.28 724.8,169.92 726.97,169.91 729.15,170.2 731.32,170.22 733.49,170.15 735.67,170.54 737.84,171 740.01,170.56 742.19,170.71 744.36,171.06 746.53,171.16 748.71,172.3 750.88,173.45 753.05,173.67 755.23,173.22 757.4,173.62 759.57,173.27 761.75,172.53 763.92,171.28 766.09,171.14 768.27,170.79 770.44,170.45 772.61,171.64 774.79,172.84 776.96,172.89 779.13,173.68 781.31,173.67 783.48,173.51 785.65,173.12 787.83,173.71" fill="none" stroke="#00bfff" stroke-width="3.7" stroke-linejoin="round" stroke-linecap="butt"/>
<path d="M159.73 459.14L164.73 462.03L164.73 467.81L159.73 470.69L154.73 467.81L154.73 462.03ZM181.47 349.14L186.47 352.03L186.47 357.8L181.47 360.69L176.47 357.8L176.47 352.03ZM203.2 288.27L208.2 291.15L208.2 296.93L203.2 299.82L198.2 296.93L198.2 291.15ZM224.93 234.15L229.93 237.04L229.93 242.82L224.93 245.7L219.93 242.82L219.93 237.04ZM246.67 244.12L251.67 247.01L251.67 252.78L246.67 255.67L241.67 252.78L241.67 247.01ZM268.4 227.75L273.4 230.63L273.4 236.41L268.4 239.3L263.4 236.41L263.4 230.63ZM290.13 217.07L295.13 219.95L295.13 225.73L290.13 228.62L285.13 225.73L285.13 219.95ZM311.87 206.39L316.87 209.27L316.87 215.05L311.87 217.94L306.87 215.05L306.87 209.27ZM333.6 195.71L338.6 198.59L338.6 204.37L333.6 207.26L328.6 204.37L328.6 198.59ZM355.33 183.6L360.33 186.49L360.33 192.26L355.33 195.15L350.33 192.26L350.33 186.49ZM377.07 183.24L382.07 186.13L382.07 191.91L377.07 194.79L372.07 191.91L372.07 186.13ZM398.8 172.16L403.8 175.05L403.8 180.82L398.8 183.71L393.8 180.82L393.8 175.05ZM420.53 167.23L425.53 170.12L425.53 175.89L420.53 178.78L415.53 175.89L415.53 170.12ZM442.27 162.66L447.27 165.55L447.27 171.32L442.27 174.21L437.27 171.32L437.27 165.55ZM464 163.53L469 166.42L469 172.19L464 175.08L459 172.19L459 166.42ZM485.73 164.76L490.73 167.65L490.73 173.43L485.73 176.31L480.73 173.43L480.73 167.65ZM507.47 162.3L512.47 165.19L512.47 170.96L507.47 173.85L502.47 170.96L502.47 165.19ZM529.2 157.98L534.2 160.87L534.2 166.65L529.2 169.53L524.2 166.65L524.2 160.87ZM550.93 163.53L555.93 166.42L555.93 172.19L550.93 175.08L545.93 172.19L545.93 166.42ZM572.67 162.92L577.67 165.8L577.67 171.58L572.67 174.47L567.67 171.58L567.67 165.8ZM594.4 166.61L599.4 169.5L599.4 175.28L594.4 178.16L589.4 175.28L589.4 169.5ZM616.13 166L621.13 168.88L621.13 174.66L616.13 177.55L611.13 174.66L611.13 168.88ZM637.87 167.23L642.87 170.12L642.87 175.89L637.87 178.78L632.87 175.89L632.87 170.12ZM659.6 166.61L664.6 169.5L664.6 175.28L659.6 178.16L654.6 175.28L654.6 169.5ZM681.33 166L686.33 168.88L686.33 174.66L681.33 177.55L676.33 174.66L676.33 168.88ZM703.07 165.38L708.07 168.27L708.07 174.04L703.07 176.93L698.07 174.04L698.07 168.27ZM724.8 164.15L729.8 167.04L729.8 172.81L724.8 175.7L719.8 172.81L719.8 167.04ZM746.53 165.38L751.53 168.27L751.53 174.04L746.53 176.93L741.53 174.04L741.53 168.27ZM768.27 165.01L773.27 167.9L773.27 173.67L768.27 176.56L763.27 173.67L763.27 167.9Z" fill="#00bfff" stroke="#00bfff" stroke-width="1.93" stroke-linejoin="miter"/>
<polyline points="138,760.4 140.17,760.4 142.35,760.4 144.52,760.4 146.69,760.4 148.87,760.4 151.04,724.8 153.21,600.2 155.39,539.68 157.56,500.27 159.73,459.94 161.91,449.51 164.08,440 166.25,427.78 168.43,419.84 170.6,407.96 172.77,399.82 174.95,391.94 177.12,384.82 179.29,379.73 181.47,376.63 183.64,372.36 185.81,363.62 187.99,357.2 190.16,340.36 192.33,329.28 194.51,341.39 196.68,328.25 198.85,310.68 201.03,303.58 203.2,315.4 205.37,326.3 207.55,322.77 209.72,321.64 211.89,307.55 214.07,305.52 216.24,301.46 218.41,300.98 220.59,301.32 222.76,282.11 224.93,290.48 227.11,291.92 229.28,278.49 231.45,281.97 233.63,279.98 235.8,265.91 237.97,272.15 240.15,266.98 242.32,275.47 244.49,279.44 246.67,284.43 248.84,274.25 251.01,262.96 253.19,272.95 255.36,267.23 257.53,258.44 259.71,254.59 261.88,251.33 264.05,248.07 266.23,242.98 268.4,244.2 270.57,250.15 272.75,245.93 274.92,244.36 277.09,236.77 279.27,244.78 281.44,242.58 283.61,229.82 285.79,229.22 287.96,219.29 290.13,229.96 292.31,241.38 294.48,227.43 296.65,224.43 298.83,226.95 301,230.9 303.17,226.25 305.35,220.26 307.52,219.2 309.69,219.55 311.87,219.28 314.04,216.41 316.21,220.19 318.39,215.24 320.56,211.38 322.73,212.16 324.91,206.14 327.08,205.04 329.25,194.6 331.43,189.73 333.6,191.87 335.77,205.04 337.95,202.07 340.12,206.29 342.29,210.33 344.47,206.96 346.64,210.12 348.81,209.31 350.99,207.67 353.16,210.56 355.33,214.87 357.51,217.18 359.68,218.61 361.85,209.79 364.03,204.67 366.2,196.99 368.37,195.66 370.55,190.52 372.72,187.21 374.89,188.49 377.07,191.49 379.24,188.99 381.41,188.33 383.59,188.81 385.76,189.32 387.93,191.28 390.11,194.51 392.28,197.66 394.45,189.39 396.63,184.1 398.8,189.03 400.97,188.84 403.15,189.22 405.32,189.92 407.49,189.19 409.67,189.01 411.84,187.58 414.01,186.56 416.19,183.01 418.36,177.94 420.53,180.13 422.71,186.47 424.88,187.24 427.05,187.8 429.23,189.03 431.4,188.18 433.57,189.1 435.75,190.21 437.92,190.95 440.09,187.87 442.27,184.1 444.44,184.03 446.61,183.08 448.79,181.63 450.96,185.1 453.13,187.8 455.31,188.81 457.48,187.61 459.65,187.66 461.83,185.81 464,186.15 466.17,187.94 468.35,187.48 470.52,188.04 472.69,188.3 474.87,187.67 477.04,188.64 479.21,191.3 481.39,191.98 483.56,193.52 485.73,192.89 487.91,192.28 490.08,191.49 492.25,195.81 494.43,195.19 496.6,195.59 498.77,195.36 500.95,193.43 503.12,193.83 505.29,193.58 507.47,194.07 509.64,193.04 511.81,192.73 513.99,192.83 516.16,191.53 518.33,190.26 520.51,188.99 522.68,186.01 524.85,184.44 527.03,182.87 529.2,187.8 531.37,187.69 533.55,186.99 535.72,186.92 537.89,187.61 540.07,187.32 542.24,185.6 544.41,184.89 546.59,183.89 548.76,182.87 550.93,182.89 553.11,184.47 555.28,185.18 557.45,184.69 559.63,184 561.8,182.31 563.97,181.63 566.15,180.75 568.32,180.12 570.49,179.17 572.67,179.38 574.84,180.43 577.01,180.77 579.19,181.45 581.36,180.94 583.53,181.31 585.71,181.63 587.88,182.27 590.05,182.94 592.23,184.1 594.4,184.38 596.57,183.11 598.75,182.78 600.92,182.87 603.09,181.54 605.27,181.05 607.44,179.48 609.61,179.11 611.79,178.5 613.96,178.5 616.13,179.89 618.31,181.11 620.48,181.37 622.65,181.28 624.83,180.49 627,180.01 629.17,178.69 631.35,178.86 633.52,178.84 635.69,177.94 637.87,177.74 640.04,177.69 642.21,178.01 644.39,177.41 646.56,178.19 648.73,178.24 650.91,177.93 653.08,177.67 655.25,177.95 657.43,177.1 659.6,176.88 661.77,177.31 663.95,177.44 666.12,177.49 668.29,177.46 670.47,177.14 672.64,177 674.81,177.12 676.99,177.44 679.16,178.06 681.33,178.29 683.51,177.54 685.68,177.94 687.85,177.8 690.03,177.02 692.2,177.09 694.37,177.29 696.55,177.3 698.72,177.08 700.89,177.01 703.07,177.62 705.24,177.9 707.41,177.81 709.59,177.47 711.76,176.51 713.93,177.32 716.11,177.26 718.28,176.9 720.45,176.83 722.63,177.44 724.8,178.16 726.97,176.59 729.15,177.1 731.32,177.51 733.49,176.89 735.67,177.48 737.84,177.5 740.01,177.82 742.19,177.08 744.36,177.38 746.53,177.29 748.71,176.93 750.88,177.2 753.05,176.42 755.23,176.97 757.4,177.75 759.57,177.07 761.75,176.76 763.92,176.72 766.09,177.26 768.27,177.37 770.44,177.18 772.61,176.79 774.79,177.01 776.96,176.63 779.13,176.63 781.31,176.73 783.48,177.2 785.65,177.69 787.83,176.92" fill="none" stroke="#ff6347" stroke-width="3.7" stroke-linejoin="round" stroke-linecap="butt"/>
<path d="M159.73 459.94L165.51 459.94M159.73 459.94L156.85 455.32M159.73 459.94L156.85 464.56M181.47 376.63L187.24 376.63M181.47 376.63L178.58 372.01M181.47 376.63L178.58 381.25M203.2 315.4L208.97 315.4M203.2 315.4L200.31 310.78M203.2 315.4L200.31 320.02M224.93 290.48L230.71 290.48M224.93 290.48L222.05 285.86M224.93 290.48L222.05 295.1M246.67 284.43L252.44 284.43M246.67 284.43L243.78 279.81M246.67 284.43L243.78 289.05M268.4 244.2L274.17 244.2M268.4 244.2L265.51 239.58M268.4 244.2L265.51 248.82M290.13 229.96L295.91 229.96M290.13 229.96L287.25 225.34M290.13 229.96L287.25 234.58M311.87 219.28L317.64 219.28M311.87 219.28L308.98 214.66M311.87 219.28L308.98 223.9M333.6 191.87L339.38 191.87M333.6 191.87L330.71 187.25M333.6 191.87L330.71 196.49M355.33 214.87L361.11 214.87M355.33 214.87L352.45 210.25M355.33 214.87L352.45 219.49M377.07 191.49L382.84 191.49M377.07 191.49L374.18 186.87M377.07 191.49L374.18 196.11M398.8 189.03L404.57 189.03M398.8 189.03L395.91 184.41M398.8 189.03L395.91 193.65M420.53 180.13L426.31 180.13M420.53 180.13L417.65 175.51M420.53 180.13L417.65 184.75M442.27 184.1L448.04 184.1M442.27 184.1L439.38 179.48M442.27 184.1L439.38 188.72M464 186.15L469.77 186.15M464 186.15L461.11 181.53M464 186.15L461.11 190.77M485.73 192.89L491.51 192.89M485.73 192.89L482.85 188.27M485.73 192.89L482.85 197.51M507.47 194.07L513.24 194.07M507.47 194.07L504.58 189.45M507.47 194.07L504.58 198.69M529.2 187.8L534.98 187.8M529.2 187.8L526.31 183.18M529.2 187.8L526.31 192.42M550.93 182.89L556.71 182.89M550.93 182.89L548.05 178.27M550.93 182.89L548.05 187.51M572.67 179.38L578.44 179.38M572.67 179.38L569.78 174.76M572.67 179.38L569.78 184M594.4 184.38L600.17 184.38M594.4 184.38L591.51 179.76M594.4 184.38L591.51 189M616.13 179.89L621.91 179.89M616.13 179.89L613.25 175.27M616.13 179.89L613.25 184.51M637.87 177.74L643.64 177.74M637.87 177.74L634.98 173.12M637.87 177.74L634.98 182.36M659.6 176.88L665.38 176.88M659.6 176.88L656.71 172.26M659.6 176.88L656.71 181.5M681.33 178.29L687.11 178.29M681.33 178.29L678.45 173.67M681.33 178.29L678.45 182.91M703.07 177.62L708.84 177.62M703.07 177.62L700.18 173M703.07 177.62L700.18 182.24M724.8 178.16L730.57 178.16M724.8 178.16L721.91 173.54M724.8 178.16L721.91 182.78M746.53 177.29L752.31 177.29M746.53 177.29L743.65 172.67M746.53 177.29L743.65 181.91M768.27 177.37L774.04 177.37M768.27 177.37L765.38 172.75M768.27 177.37L765.38 181.99" fill="none" stroke="#ff6347" stroke-width="1.93" stroke-linejoin="miter"/>
</g>
<path d="M138 724.8V717.2M355.33 724.8V717.2M572.67 724.8V717.2M790 724.8V717.2M138 724.8H145.6M138 635.8H145.6M138 546.8H145.6M138 457.8H145.6M138 368.8H145.6M138 279.8H145.6M138 190.8H145.6M138 101.8H145.6M138 12.8H145.6" stroke="#000" stroke-width="2.5" fill="none"/>
<rect x="138" y="12.8" width="652" height="712" fill="none" stroke="#000" stroke-width="3.8"/>
<text class="t" x="137.6" y="759.4" text-anchor="middle">0</text>
<text class="t" x="354.93" y="759.4" text-anchor="middle">100</text>
<text class="t" x="572.27" y="759.4" text-anchor="middle">200</text>
<text class="t" x="789.6" y="759.4" text-anchor="middle">300</text>
<text class="t" x="128" y="738.4" text-anchor="end">0.700</text>
<text class="t" x="128" y="649.4" text-anchor="end">0.725</text>
<text class="t" x="128" y="560.4" text-anchor="end">0.750</text>
<text class="t" x="128" y="471.4" text-anchor="end">0.775</text>
<text class="t" x="128" y="382.4" text-anchor="end">0.800</text>
<text class="t" x="128" y="293.4" text-anchor="end">0.825</text>
<text class="t" x="128" y="204.4" text-anchor="end">0.850</text>
<text class="t" x="128" y="115.4" text-anchor="end">0.875</text>
<text class="t" x="128" y="26.4" text-anchor="end">0.900</text>
<text x="464" y="802.8" text-anchor="middle">epochs</text>
<text transform="translate(26.8 369.2) rotate(-90)" text-anchor="middle">mAP@0.50</text>
<rect x="535.45" y="367.2" width="235.1" height="338.1" rx="6.8" fill="#fff" fill-opacity="0.8" stroke="#cbcbcb" stroke-opacity="0.85" stroke-width="2.6"/>
<path d="M549.35 396.2H630.05" stroke="#ff6347" stroke-width="3.7" fill="none"/>
<path d="M589.7 390.43L595.19 394.42L593.09 400.87L586.31 400.87L584.21 394.42Z" fill="#ff6347" stroke="#ff6347" stroke-width="1.93" stroke-linejoin="miter"/>
<text x="659" y="409.6">EIoU</text>
<path d="M549.35 450.7H630.05" stroke="#00bfff" stroke-width="3.7" fill="none"/>
<path d="M583.92 444.93L595.47 444.93L595.47 456.47L583.92 456.47Z" fill="#00bfff" stroke="#00bfff" stroke-width="1.93" stroke-linejoin="miter"/>
<text x="659" y="464.1">CIoU</text>
<path d="M549.35 505.2H630.05" stroke="#00ff7f" stroke-width="3.7" fill="none"/>
<path d="M589.7 499.43L583.92 510.97L595.47 510.97Z" fill="#00ff7f" stroke="#00ff7f" stroke-width="1.93" stroke-linejoin="miter"/>
<text x="659" y="518.6">DIoU</text>
<path d="M549.35 559.7H630.05" stroke="#ff1493" stroke-width="3.7" fill="none"/>
<path d="M589.7 553.93L591 557.92L595.19 557.92L591.8 560.38L593.09 564.37L589.7 561.91L586.31 564.37L587.6 560.38L584.21 557.92L588.4 557.92Z" fill="#ff1493" stroke="#ff1493" stroke-width="1.93" stroke-linejoin="bevel"/>
<text x="659" y="573.1">GIoU</text>
<path d="M549.35 614.2H630.05" stroke="#00bfff" stroke-width="3.7" fill="none"/>
<path d="M589.7 608.43L594.7 611.31L594.7 617.09L589.7 619.98L584.7 617.09L584.7 611.31Z" fill="#00bfff" stroke="#00bfff" stroke-width="1.93" stroke-linejoin="miter"/>
<text x="659" y="627.6">SIoU</text>
<path d="M549.35 668.7H630.05" stroke="#ff6347" stroke-width="3.7" fill="none"/>
<path d="M589.7 668.7L595.47 668.7M589.7 668.7L586.81 664.08M589.7 668.7L586.81 673.32" fill="none" stroke="#ff6347" stroke-width="1.93" stroke-linejoin="miter"/>
<text x="659" y="682.1">WIoU</text>
<clipPath id="clipb"><rect x="920.4" y="12.8" width="652" height="712"/></clipPath>
<g clip-path="url(#clipb)">
<polyline points="920.4,760.4 922.57,760.4 924.75,760.4 926.92,760.4 929.09,760.4 931.27,710.56 933.44,596.64 935.61,533.98 937.79,490.12 939.96,471.33 942.13,458.51 944.31,420.06 946.48,394.43 948.65,377.34 950.83,361.96 953,351.71 955.17,343.25 957.35,334.62 959.52,332.71 961.69,320.53 963.87,314.4 966.04,310.31 968.21,303.87 970.39,291.32 972.56,283.36 974.73,289.87 976.91,299.59 979.08,293.7 981.25,285.01 983.43,280.51 985.6,279.94 987.77,274.82 989.95,255.89 992.12,252.56 994.29,256.59 996.47,253.03 998.64,244.34 1000.81,248.99 1002.99,246.34 1005.16,242.19 1007.33,240.92 1009.51,230.96 1011.68,233.52 1013.85,226.68 1016.03,228.68 1018.2,214.72 1020.37,217.86 1022.55,215.01 1024.72,211.88 1026.89,213.58 1029.07,207.89 1031.24,203.65 1033.41,202.04 1035.59,206.14 1037.76,201.05 1039.93,193.7 1042.11,193.67 1044.28,194.8 1046.45,193.39 1048.63,189.21 1050.8,187.38 1052.97,189.23 1055.15,185.33 1057.32,184.18 1059.49,182.7 1061.67,177.98 1063.84,175.95 1066.01,177.9 1068.19,175.56 1070.36,174.47 1072.53,172.57 1074.71,171.63 1076.88,169.85 1079.05,168.09 1081.23,166.53 1083.4,164.31 1085.57,160.21 1087.75,160.41 1089.92,157.59 1092.09,159.51 1094.27,153.49 1096.44,153.37 1098.61,153.26 1100.79,154.15 1102.96,152.19 1105.13,152.35 1107.31,153.27 1109.48,149.97 1111.65,148.28 1113.83,150.44 1116,148.08 1118.17,148.99 1120.35,145.57 1122.52,146.66 1124.69,135.14 1126.87,131.16 1129.04,129.43 1131.21,130.25 1133.39,130.16 1135.56,129.84 1137.73,130.4 1139.91,129.86 1142.08,128.21 1144.25,128.09 1146.43,127.32 1148.6,127.72 1150.77,127.13 1152.95,125.47 1155.12,124.08 1157.29,120.79 1159.47,119.31 1161.64,119.6 1163.81,121.91 1165.99,122.63 1168.16,124.24 1170.33,120.41 1172.51,118.72 1174.68,114.38 1176.85,113.39 1179.03,116.31 1181.2,118.07 1183.37,116.86 1185.55,113.89 1187.72,113.18 1189.89,112.66 1192.07,112.24 1194.24,112.53 1196.41,111.31 1198.59,112.15 1200.76,110.39 1202.93,109.45 1205.11,109.62 1207.28,110.45 1209.45,112.01 1211.63,112.53 1213.8,112.09 1215.97,109.26 1218.15,108.93 1220.32,109.53 1222.49,109.76 1224.67,110.06 1226.84,110.84 1229.01,110.3 1231.19,110.28 1233.36,110.32 1235.53,109.01 1237.71,107.01 1239.88,105.66 1242.05,104.16 1244.23,103.49 1246.4,103.9 1248.57,102.79 1250.75,101.33 1252.92,99.16 1255.09,100.04 1257.27,100.48 1259.44,100.76 1261.61,100.66 1263.79,102.18 1265.96,102.96 1268.13,103.9 1270.31,104.24 1272.48,102.76 1274.65,101.4 1276.83,100.54 1279,99.3 1281.17,97.05 1283.35,97.41 1285.52,96.78 1287.69,95.31 1289.87,94.99 1292.04,95.87 1294.21,95.42 1296.39,94.51 1298.56,95.02 1300.73,95.61 1302.91,95.93 1305.08,95.95 1307.25,96.7 1309.43,95.64 1311.6,96.22 1313.77,96 1315.95,95.94 1318.12,95.34 1320.29,94.2 1322.47,94.98 1324.64,94.33 1326.81,95.28 1328.99,96.06 1331.16,95.65 1333.33,95.61 1335.51,94.54 1337.68,94.97 1339.85,94.75 1342.03,94.68 1344.2,93.76 1346.37,93.37 1348.55,93.26 1350.72,93.94 1352.89,93.71 1355.07,93.76 1357.24,93.18 1359.41,93.5 1361.59,92.91 1363.76,92.5 1365.93,92.53 1368.11,92.93 1370.28,93.23 1372.45,93.18 1374.63,93.78 1376.8,93.76 1378.97,94.33 1381.15,94.73 1383.32,95.38 1385.49,95.63 1387.67,96.26 1389.84,96.18 1392.01,94.92 1394.19,94.56 1396.36,94.61 1398.53,94.13 1400.71,94.14 1402.88,94.07 1405.05,94.05 1407.23,94.64 1409.4,94.38 1411.57,94.13 1413.75,94.03 1415.92,94.05 1418.09,93.72 1420.27,93.14 1422.44,93.36 1424.61,93.25 1426.79,93.31 1428.96,93.66 1431.13,93.14 1433.31,92.67 1435.48,93.15 1437.65,92.72 1439.83,92.94 1442,92.53 1444.17,93.14 1446.35,92.88 1448.52,92.72 1450.69,92.41 1452.87,93.14 1455.04,93.46 1457.21,93 1459.39,92.84 1461.56,92.65 1463.73,92.53 1465.91,93.21 1468.08,92.55 1470.25,92.79 1472.43,93.39 1474.6,93.14 1476.77,93.59 1478.95,92.98 1481.12,93.05 1483.29,93.76 1485.47,93.76 1487.64,92.96 1489.81,94.14 1491.99,94.45 1494.16,94.65 1496.33,94.99 1498.51,94.52 1500.68,95.31 1502.85,95.07 1505.03,94.59 1507.2,95.36 1509.37,95.46 1511.55,95.97 1513.72,96.69 1515.89,96.65 1518.07,97.59 1520.24,97.89 1522.41,97.5 1524.59,97.32 1526.76,97.13 1528.93,96.59 1531.11,96.88 1533.28,96.65 1535.45,97.21 1537.63,97.17 1539.8,97.46 1541.97,97.5 1544.15,97.55 1546.32,97.43 1548.49,96.84 1550.67,97.46 1552.84,96.74 1555.01,97.06 1557.19,97.08 1559.36,96.9 1561.53,96.84 1563.71,96.96 1565.88,96.56 1568.05,97.09 1570.23,97.39" fill="none" stroke="#ff6347" stroke-width="3.7" stroke-linejoin="round" stroke-linecap="butt"/>
<path d="M942.13 452.74L947.63 456.73L945.53 463.18L938.74 463.18L936.64 456.73ZM963.87 308.63L969.36 312.62L967.26 319.08L960.47 319.08L958.37 312.62ZM985.6 274.17L991.09 278.16L988.99 284.61L982.21 284.61L980.11 278.16ZM1007.33 235.15L1012.83 239.14L1010.73 245.6L1003.94 245.6L1001.84 239.14ZM1029.07 202.11L1034.56 206.1L1032.46 212.56L1025.67 212.56L1023.57 206.1ZM1050.8 181.61L1056.29 185.6L1054.19 192.05L1047.41 192.05L1045.31 185.6ZM1072.53 166.8L1078.03 170.79L1075.93 177.24L1069.14 177.24L1067.04 170.79ZM1094.27 147.72L1099.76 151.71L1097.66 158.16L1090.87 158.16L1088.77 151.71ZM1116 142.3L1121.49 146.3L1119.39 152.75L1112.61 152.75L1110.51 146.3ZM1137.73 124.63L1143.23 128.62L1141.13 135.07L1134.34 135.07L1132.24 128.62ZM1159.47 113.53L1164.96 117.52L1162.86 123.98L1156.07 123.98L1153.97 117.52ZM1181.2 112.3L1186.69 116.29L1184.59 122.75L1177.81 122.75L1175.71 116.29ZM1202.93 103.67L1208.43 107.66L1206.33 114.12L1199.54 114.12L1197.44 107.66ZM1224.67 104.29L1230.16 108.28L1228.06 114.73L1221.27 114.73L1219.17 108.28ZM1246.4 98.12L1251.89 102.11L1249.79 108.57L1243.01 108.57L1240.91 102.11ZM1268.13 98.12L1273.63 102.11L1271.53 108.57L1264.74 108.57L1262.64 102.11ZM1289.87 89.22L1295.36 93.21L1293.26 99.66L1286.47 99.66L1284.37 93.21ZM1311.6 90.45L1317.09 94.44L1314.99 100.9L1308.21 100.9L1306.11 94.44ZM1333.33 89.83L1338.83 93.82L1336.73 100.28L1329.94 100.28L1327.84 93.82ZM1355.07 87.98L1360.56 91.98L1358.46 98.43L1351.67 98.43L1349.57 91.98ZM1376.8 87.98L1382.29 91.98L1380.19 98.43L1373.41 98.43L1371.31 91.98ZM1398.53 88.35L1404.03 92.34L1401.93 98.8L1395.14 98.8L1393.04 92.34ZM1420.27 87.37L1425.76 91.36L1423.66 97.82L1416.87 97.82L1414.77 91.36ZM1442 86.75L1447.49 90.74L1445.39 97.2L1438.61 97.2L1436.51 90.74ZM1463.73 86.75L1469.23 90.74L1467.13 97.2L1460.34 97.2L1458.24 90.74ZM1485.47 87.98L1490.96 91.98L1488.86 98.43L1482.07 98.43L1479.97 91.98ZM1507.2 89.59L1512.69 93.58L1510.59 100.03L1503.81 100.03L1501.71 93.58ZM1528.93 90.82L1534.43 94.81L1532.33 101.27L1525.54 101.27L1523.44 94.81ZM1550.67 91.68L1556.16 95.67L1554.06 102.13L1547.27 102.13L1545.17 95.67Z" fill="#ff6347" stroke="#ff6347" stroke-width="1.93" stroke-linejoin="miter"/>
<polyline points="920.4,760.4 922.57,760.4 924.75,760.4 926.92,760.4 929.09,760.4 931.27,719.1 933.44,605.18 935.61,542.53 937.79,498.67 939.96,479.87 942.13,453.1 944.31,425.48 946.48,402.69 948.65,387.03 950.83,372.01 953,364.24 955.17,366.49 957.35,351.14 959.52,346.35 961.69,340.52 963.87,328.93 966.04,317.98 968.21,306.84 970.39,312.28 972.56,308.14 974.73,309.81 976.91,313.02 979.08,309.56 981.25,301.12 983.43,298.83 985.6,293.04 987.77,284.63 989.95,278.08 992.12,278.54 994.29,275.39 996.47,273.29 998.64,268.39 1000.81,269.54 1002.99,260.58 1005.16,263.36 1007.33,255.21 1009.51,250.32 1011.68,250.94 1013.85,240 1016.03,242.98 1018.2,243.7 1020.37,238.65 1022.55,231.53 1024.72,225.5 1026.89,230.28 1029.07,226.68 1031.24,221.87 1033.41,227.01 1035.59,228.76 1037.76,225.98 1039.93,208.98 1042.11,209.99 1044.28,210.35 1046.45,209.83 1048.63,209.24 1050.8,205.04 1052.97,204.37 1055.15,201.85 1057.32,192.22 1059.49,197.17 1061.67,197.58 1063.84,196.44 1066.01,197.71 1068.19,193.83 1070.36,186.52 1072.53,188.52 1074.71,187.14 1076.88,189.06 1079.05,192.03 1081.23,181.46 1083.4,183.83 1085.57,181.83 1087.75,178.91 1089.92,171.9 1092.09,176.31 1094.27,172.29 1096.44,175.99 1098.61,170.13 1100.79,165.73 1102.96,166.6 1105.13,166.05 1107.31,165.3 1109.48,162.48 1111.65,164.56 1113.83,157.04 1116,161.47 1118.17,159.86 1120.35,156.29 1122.52,156.51 1124.69,157.63 1126.87,156.97 1129.04,154.92 1131.21,157.61 1133.39,153.62 1135.56,148.23 1137.73,145.19 1139.91,147.37 1142.08,147.63 1144.25,149.27 1146.43,148.13 1148.6,148.89 1150.77,145.72 1152.95,147.85 1155.12,146.61 1157.29,146.9 1159.47,146.43 1161.64,144.71 1163.81,144.62 1165.99,142.01 1168.16,141.27 1170.33,139.37 1172.51,137.88 1174.68,139.04 1176.85,137.52 1179.03,135.46 1181.2,134.1 1183.37,133.41 1185.55,132.69 1187.72,132.65 1189.89,131.51 1192.07,131.18 1194.24,131.1 1196.41,129.54 1198.59,129.26 1200.76,128.16 1202.93,127.94 1205.11,128.09 1207.28,127.65 1209.45,126.94 1211.63,127.7 1213.8,126.09 1215.97,125.63 1218.15,125.19 1220.32,125.19 1222.49,123.92 1224.67,123 1226.84,122.84 1229.01,123.51 1231.19,123.56 1233.36,123.65 1235.53,124.24 1237.71,123.72 1239.88,124.01 1242.05,123.44 1244.23,121.9 1246.4,121.16 1248.57,121.29 1250.75,121.24 1252.92,120.54 1255.09,121.6 1257.27,121.16 1259.44,121.36 1261.61,120.39 1263.79,118.88 1265.96,118.2 1268.13,117.46 1270.31,115.33 1272.48,117.75 1274.65,120.45 1276.83,120.45 1279,120.06 1281.17,118.84 1283.35,118.35 1285.52,117.74 1287.69,116.97 1289.87,116.56 1292.04,116.36 1294.21,116.66 1296.39,116.83 1298.56,116.6 1300.73,116.19 1302.91,116.1 1305.08,116.72 1307.25,116.31 1309.43,116.55 1311.6,116.19 1313.77,115 1315.95,115.54 1318.12,114.79 1320.29,115.07 1322.47,114.31 1324.64,114.23 1326.81,114 1328.99,112.95 1331.16,112.95 1333.33,113.11 1335.51,113.23 1337.68,113.06 1339.85,112 1342.03,111.72 1344.2,112.16 1346.37,111.89 1348.55,110.94 1350.72,111.16 1352.89,111.35 1355.07,111.02 1357.24,110.6 1359.41,110.76 1361.59,110.25 1363.76,109.99 1365.93,110.05 1368.11,110.76 1370.28,110.95 1372.45,110.81 1374.63,110.39 1376.8,110.4 1378.97,110.25 1381.15,110.7 1383.32,110.58 1385.49,110.43 1387.67,110.16 1389.84,110.71 1392.01,110.52 1394.19,109.92 1396.36,109.96 1398.53,110.4 1400.71,110.29 1402.88,109.85 1405.05,110.53 1407.23,111.08 1409.4,110.81 1411.57,110.31 1413.75,111.04 1415.92,110.66 1418.09,109.8 1420.27,110.4 1422.44,110.35 1424.61,110.24 1426.79,110.64 1428.96,111.41 1431.13,110.79 1433.31,110.7 1435.48,110.47 1437.65,111.12 1439.83,110.74 1442,111.02 1444.17,111.04 1446.35,110.84 1448.52,111.19 1450.69,110.7 1452.87,110.62 1455.04,110.65 1457.21,110.82 1459.39,111.05 1461.56,111.42 1463.73,111.02 1465.91,110.78 1468.08,110.8 1470.25,111.02 1472.43,110.55 1474.6,111.22 1476.77,110.85 1478.95,110.88 1481.12,111.17 1483.29,111.62 1485.47,111.02 1487.64,111.25 1489.81,111.16 1491.99,110.67 1494.16,110.27 1496.33,110.92 1498.51,110.64 1500.68,111.21 1502.85,111.19 1505.03,110.86 1507.2,111.02 1509.37,111.11 1511.55,111.51 1513.72,111.76 1515.89,111.7 1518.07,111.34 1520.24,110.9 1522.41,110.6 1524.59,110.84 1526.76,110.48 1528.93,111.02 1531.11,111.28 1533.28,110.8 1535.45,110.92 1537.63,111.34 1539.8,111.8 1541.97,111.21 1544.15,111.11 1546.32,111.04 1548.49,111.45 1550.67,111.02 1552.84,110.69 1555.01,110.87 1557.19,111.32 1559.36,111.01 1561.53,110.37 1563.71,110.33 1565.88,110.8 1568.05,110.5 1570.23,110.49" fill="none" stroke="#00bfff" stroke-width="3.7" stroke-linejoin="round" stroke-linecap="butt"/>
<path d="M936.36 447.33L947.91 447.33L947.91 458.88L936.36 458.88ZM958.09 323.15L969.64 323.15L969.64 334.7L958.09 334.7ZM979.83 287.27L991.38 287.27L991.38 298.82L979.83 298.82ZM1001.56 249.44L1013.11 249.44L1013.11 260.99L1001.56 260.99ZM1023.29 220.91L1034.84 220.91L1034.84 232.46L1023.29 232.46ZM1045.02 199.27L1056.58 199.27L1056.58 210.82L1045.02 210.82ZM1066.76 182.75L1078.31 182.75L1078.31 194.3L1066.76 194.3ZM1088.49 166.51L1100.04 166.51L1100.04 178.06L1088.49 178.06ZM1110.22 155.69L1121.78 155.69L1121.78 167.24L1110.22 167.24ZM1131.96 139.42L1143.51 139.42L1143.51 150.97L1131.96 150.97ZM1153.69 140.65L1165.24 140.65L1165.24 152.2L1153.69 152.2ZM1175.42 128.32L1186.98 128.32L1186.98 139.87L1175.42 139.87ZM1197.16 122.16L1208.71 122.16L1208.71 133.71L1197.16 133.71ZM1218.89 117.23L1230.44 117.23L1230.44 128.78L1218.89 128.78ZM1240.62 115.38L1252.18 115.38L1252.18 126.93L1240.62 126.93ZM1262.36 111.68L1273.91 111.68L1273.91 123.23L1262.36 123.23ZM1284.09 110.79L1295.64 110.79L1295.64 122.34L1284.09 122.34ZM1305.82 110.42L1317.38 110.42L1317.38 121.97L1305.82 121.97ZM1327.56 107.34L1339.11 107.34L1339.11 118.89L1327.56 118.89ZM1349.29 105.24L1360.84 105.24L1360.84 116.79L1349.29 116.79ZM1371.03 104.63L1382.58 104.63L1382.58 116.18L1371.03 116.18ZM1392.76 104.63L1404.31 104.63L1404.31 116.18L1392.76 116.18ZM1414.49 104.63L1426.04 104.63L1426.04 116.18L1414.49 116.18ZM1436.22 105.24L1447.78 105.24L1447.78 116.79L1436.22 116.79ZM1457.96 105.24L1469.51 105.24L1469.51 116.79L1457.96 116.79ZM1479.69 105.24L1491.24 105.24L1491.24 116.79L1479.69 116.79ZM1501.42 105.24L1512.98 105.24L1512.98 116.79L1501.42 116.79ZM1523.16 105.24L1534.71 105.24L1534.71 116.79L1523.16 116.79ZM1544.89 105.24L1556.44 105.24L1556.44 116.79L1544.89 116.79Z" fill="#00bfff" stroke="#00bfff" stroke-width="1.93" stroke-linejoin="miter"/>
<polyline points="920.4,760.4 922.57,760.4 924.75,760.4 926.92,760.4 929.09,760.4 931.27,724.8 933.44,610.88 935.61,548.22 937.79,504.36 939.96,485.57 942.13,463.07 944.31,426.9 946.48,404.12 948.65,388.45 950.83,378.77 953,365.67 955.17,351.83 957.35,352.57 959.52,345.03 961.69,333.59 963.87,330.35 966.04,328.19 968.21,319.41 970.39,316.15 972.56,309.56 974.73,312.46 976.91,313.74 979.08,310.99 981.25,301.76 983.43,295.11 985.6,294.47 987.77,286.04 989.95,268.25 992.12,279.9 994.29,276.81 996.47,281.95 998.64,272.15 1000.81,264.15 1002.99,262 1005.16,259.33 1007.33,252.13 1009.51,251.75 1011.68,251.2 1013.85,247.43 1016.03,252.1 1018.2,248.28 1020.37,240.07 1022.55,236.96 1024.72,235.75 1026.89,234.6 1029.07,234.37 1031.24,235.68 1033.41,229.68 1035.59,226.53 1037.76,228.36 1039.93,223.22 1042.11,212.69 1044.28,208.43 1046.45,212.73 1048.63,211.34 1050.8,206.46 1052.97,209.48 1055.15,209.55 1057.32,207.74 1059.49,199.8 1061.67,203.48 1063.84,193.9 1066.01,194.49 1068.19,190.49 1070.36,188.33 1072.53,189.95 1074.71,191.59 1076.88,191.26 1079.05,186.98 1081.23,186.11 1083.4,185.71 1085.57,178.42 1087.75,175.4 1089.92,173.27 1092.09,175.7 1094.27,176.56 1096.44,172.53 1098.61,172.15 1100.79,171.72 1102.96,166.42 1105.13,165.77 1107.31,169.55 1109.48,171.35 1111.65,167.56 1113.83,165.41 1116,162.89 1118.17,159.48 1120.35,163.68 1122.52,161.46 1124.69,163.32 1126.87,158.75 1129.04,156.34 1131.21,155.39 1133.39,158.07 1135.56,156.3 1137.73,156.29 1139.91,157.93 1142.08,158.19 1144.25,156.59 1146.43,157.9 1148.6,155.38 1150.77,151.1 1152.95,150.12 1155.12,148.92 1157.29,148.43 1159.47,145.81 1161.64,144.66 1163.81,144.18 1165.99,143.91 1168.16,143.86 1170.33,142.54 1172.51,142.66 1174.68,139.36 1176.85,139.39 1179.03,138.51 1181.2,137.18 1183.37,137.91 1185.55,137.34 1187.72,139.88 1189.89,139.54 1192.07,137.9 1194.24,137.71 1196.41,136.56 1198.59,136.36 1200.76,137.59 1202.93,138.41 1205.11,136.54 1207.28,134.98 1209.45,135.5 1211.63,134.1 1213.8,134.13 1215.97,135.54 1218.15,135.95 1220.32,134.36 1222.49,131.28 1224.67,130.4 1226.84,130.42 1229.01,129.72 1231.19,129.18 1233.36,128.16 1235.53,127.94 1237.71,127.44 1239.88,126.56 1242.05,125.33 1244.23,125.29 1246.4,124.85 1248.57,124.72 1250.75,124.66 1252.92,125.31 1255.09,125.86 1257.27,125.47 1259.44,124.4 1261.61,124.91 1263.79,124.54 1265.96,125.25 1268.13,124.24 1270.31,119.03 1272.48,117.75 1274.65,118.56 1276.83,118.57 1279,117.99 1281.17,118.42 1283.35,118.56 1285.52,118.44 1287.69,118.09 1289.87,118.41 1292.04,118.4 1294.21,118.6 1296.39,118.62 1298.56,118.22 1300.73,118.06 1302.91,118.39 1305.08,117.53 1307.25,117.27 1309.43,117.33 1311.6,117.18 1313.77,116.57 1315.95,116.66 1318.12,116.87 1320.29,116.89 1322.47,116.74 1324.64,115.73 1326.81,116.56 1328.99,116.61 1331.16,116.58 1333.33,116.56 1335.51,115.89 1337.68,115.92 1339.85,115.85 1342.03,116.1 1344.2,116.05 1346.37,115.46 1348.55,115.12 1350.72,114.61 1352.89,115.31 1355.07,114.71 1357.24,114.34 1359.41,115.05 1361.59,114.84 1363.76,113.73 1365.93,114.53 1368.11,115.41 1370.28,114.9 1372.45,115.37 1374.63,114.96 1376.8,114.71 1378.97,114.68 1381.15,114.55 1383.32,114.81 1385.49,115.05 1387.67,115.34 1389.84,115.8 1392.01,115.36 1394.19,115.69 1396.36,116.2 1398.53,115.95 1400.71,115.78 1402.88,116.41 1405.05,115.77 1407.23,115.89 1409.4,116.13 1411.57,115.42 1413.75,115.34 1415.92,115.65 1418.09,115.67 1420.27,115.95 1422.44,116.22 1424.61,115.65 1426.79,115.62 1428.96,115.58 1431.13,116.07 1433.31,115.86 1435.48,116.06 1437.65,115.93 1439.83,116.52 1442,116.56 1444.17,116.88 1446.35,116.69 1448.52,117.14 1450.69,116.39 1452.87,116.61 1455.04,117 1457.21,116.71 1459.39,116.45 1461.56,116.21 1463.73,116.56 1465.91,116.14 1468.08,116.54 1470.25,116.5 1472.43,116.7 1474.6,115.47 1476.77,115.95 1478.95,116.5 1481.12,116.47 1483.29,116.49 1485.47,115.95 1487.64,115.51 1489.81,115.92 1491.99,116.35 1494.16,115.72 1496.33,115.48 1498.51,115.01 1500.68,115.16 1502.85,115.03 1505.03,114.84 1507.2,114.71 1509.37,114.46 1511.55,114.37 1513.72,114.58 1515.89,114.73 1518.07,114.49 1520.24,114.67 1522.41,114.63 1524.59,114.26 1526.76,114.59 1528.93,114.71 1531.11,114.85 1533.28,114.64 1535.45,115.03 1537.63,115.02 1539.8,114.74 1541.97,114.37 1544.15,114.52 1546.32,114.1 1548.49,113.96 1550.67,114.1 1552.84,114.39 1555.01,114.11 1557.19,113.86 1559.36,113.8 1561.53,113.69 1563.71,113.46 1565.88,113.63 1568.05,113.36 1570.23,113.62" fill="none" stroke="#00ff7f" stroke-width="3.7" stroke-linejoin="round" stroke-linecap="butt"/>
<path d="M942.13 457.29L936.36 468.84L947.91 468.84ZM963.87 324.58L958.09 336.13L969.64 336.13ZM985.6 288.69L979.83 300.24L991.38 300.24ZM1007.33 246.35L1001.56 257.9L1013.11 257.9ZM1029.07 228.6L1023.29 240.15L1034.84 240.15ZM1050.8 200.69L1045.02 212.24L1056.58 212.24ZM1072.53 184.17L1066.76 195.72L1078.31 195.72ZM1094.27 170.78L1088.49 182.34L1100.04 182.34ZM1116 157.11L1110.22 168.66L1121.78 168.66ZM1137.73 150.51L1131.96 162.06L1143.51 162.06ZM1159.47 140.03L1153.69 151.58L1165.24 151.58ZM1181.2 131.41L1175.42 142.96L1186.98 142.96ZM1202.93 132.64L1197.16 144.19L1208.71 144.19ZM1224.67 124.63L1218.89 136.18L1230.44 136.18ZM1246.4 119.08L1240.62 130.63L1252.18 130.63ZM1268.13 118.46L1262.36 130.01L1273.91 130.01ZM1289.87 112.64L1284.09 124.19L1295.64 124.19ZM1311.6 111.41L1305.82 122.96L1317.38 122.96ZM1333.33 110.79L1327.56 122.34L1339.11 122.34ZM1355.07 108.94L1349.29 120.49L1360.84 120.49ZM1376.8 108.94L1371.03 120.49L1382.58 120.49ZM1398.53 110.17L1392.76 121.72L1404.31 121.72ZM1420.27 110.17L1414.49 121.72L1426.04 121.72ZM1442 110.79L1436.22 122.34L1447.78 122.34ZM1463.73 110.79L1457.96 122.34L1469.51 122.34ZM1485.47 110.17L1479.69 121.72L1491.24 121.72ZM1507.2 108.94L1501.42 120.49L1512.98 120.49ZM1528.93 108.94L1523.16 120.49L1534.71 120.49ZM1550.67 108.32L1544.89 119.87L1556.44 119.87Z" fill="#00ff7f" stroke="#00ff7f" stroke-width="1.93" stroke-linejoin="miter"/>
<polyline points="920.4,760.4 922.57,760.4 924.75,760.4 926.92,760.4 929.09,760.4 931.27,704.86 933.44,590.94 935.61,528.29 937.79,484.43 939.96,465.63 942.13,430.89 944.31,422.63 946.48,399.84 948.65,384.18 950.83,375.78 953,361.4 955.17,362.77 957.35,348.29 959.52,344.29 961.69,333.44 963.87,326.08 966.04,315.22 968.21,324.22 970.39,312.12 972.56,305.29 974.73,307.81 976.91,312.37 979.08,306.71 981.25,297.03 983.43,296.74 985.6,290.2 987.77,293.63 989.95,275.24 992.12,275.25 994.29,272.54 996.47,266.46 998.64,267.44 1000.81,264.4 1002.99,257.73 1005.16,254.56 1007.33,250.43 1009.51,247.48 1011.68,243.78 1013.85,245.52 1016.03,246.16 1018.2,237.89 1020.37,235.8 1022.55,234.5 1024.72,232.69 1026.89,221.93 1029.07,223.84 1031.24,229.35 1033.41,221.67 1035.59,218.72 1037.76,217.4 1039.93,210.91 1042.11,207.77 1044.28,206.22 1046.45,199.67 1048.63,204.65 1050.8,202.19 1052.97,201.43 1055.15,198.11 1057.32,206.05 1059.49,200.79 1061.67,192.93 1063.84,188.74 1066.01,190 1068.19,192.6 1070.36,185.42 1072.53,185.67 1074.71,188.14 1076.88,184.13 1079.05,179.33 1081.23,177.61 1083.4,181.53 1085.57,176.54 1087.75,173.77 1089.92,173.41 1092.09,169 1094.27,169.44 1096.44,168.65 1098.61,163.49 1100.79,167.57 1102.96,160.67 1105.13,165 1107.31,160.18 1109.48,163.31 1111.65,160.2 1113.83,157.01 1116,158.62 1118.17,156.06 1120.35,156.29 1122.52,156.96 1124.69,154.02 1126.87,152.54 1129.04,152.07 1131.21,148.57 1133.39,143.45 1135.56,143.61 1137.73,143.96 1139.91,143.18 1142.08,142.54 1144.25,141.51 1146.43,141.63 1148.6,138.89 1150.77,138.86 1152.95,139.03 1155.12,139.64 1157.29,137.63 1159.47,137.8 1161.64,138.61 1163.81,139.52 1165.99,139.92 1168.16,138.86 1170.33,138.97 1172.51,140.13 1174.68,138.57 1176.85,140.32 1179.03,139.46 1181.2,137.03 1183.37,136.91 1185.55,139.01 1187.72,138 1189.89,136.78 1192.07,134.14 1194.24,132.81 1196.41,130.93 1198.59,129.84 1200.76,128.73 1202.93,127.94 1205.11,127.6 1207.28,126.54 1209.45,126.19 1211.63,124.24 1213.8,123.04 1215.97,123.91 1218.15,121.92 1220.32,121.74 1222.49,120.41 1224.67,119.92 1226.84,121.76 1229.01,122.92 1231.19,123 1233.36,124.04 1235.53,124.69 1237.71,123.54 1239.88,123.45 1242.05,122.96 1244.23,122.1 1246.4,121.77 1248.57,122.25 1250.75,119.79 1252.92,120.37 1255.09,119.87 1257.27,118.48 1259.44,117.75 1261.61,117.46 1263.79,116.96 1265.96,114.63 1268.13,113.76 1270.31,114.1 1272.48,115.67 1274.65,116.67 1276.83,116.96 1279,117.24 1281.17,117.24 1283.35,116.24 1285.52,116.31 1287.69,113.72 1289.87,112.87 1292.04,113.12 1294.21,112.64 1296.39,112.85 1298.56,112.35 1300.73,112.28 1302.91,113.94 1305.08,114.05 1307.25,113.3 1309.43,112.36 1311.6,112.25 1313.77,112.58 1315.95,112.93 1318.12,113.06 1320.29,112.91 1322.47,113.42 1324.64,112.14 1326.81,111.49 1328.99,110.9 1331.16,110.75 1333.33,109.17 1335.51,109.2 1337.68,109.9 1339.85,109.58 1342.03,110.4 1344.2,110.39 1346.37,109.07 1348.55,108.66 1350.72,107.5 1352.89,106.36 1355.07,106.09 1357.24,106.86 1359.41,108.13 1361.59,108.55 1363.76,107.69 1365.93,107.37 1368.11,106.81 1370.28,106.35 1372.45,105.48 1374.63,104.81 1376.8,104.24 1378.97,104.41 1381.15,104.57 1383.32,104.95 1385.49,105.47 1387.67,105.04 1389.84,104.15 1392.01,103.8 1394.19,103 1396.36,102.55 1398.53,102.39 1400.71,102.54 1402.88,103.14 1405.05,103.32 1407.23,103.66 1409.4,104.24 1411.57,103.56 1413.75,102.72 1415.92,102.26 1418.09,102.21 1420.27,101.16 1422.44,101.07 1424.61,101.92 1426.79,102.37 1428.96,102.73 1431.13,103 1433.31,102.78 1435.48,102.13 1437.65,102.11 1439.83,102.14 1442,101.77 1444.17,101.92 1446.35,102.97 1448.52,102.5 1450.69,103.47 1452.87,103.62 1455.04,102.98 1457.21,102.91 1459.39,102.75 1461.56,102.76 1463.73,103 1465.91,102.57 1468.08,102.07 1470.25,103.08 1472.43,103.74 1474.6,104.24 1476.77,104.08 1478.95,104.13 1481.12,103.8 1483.29,104.22 1485.47,104.24 1487.64,104.37 1489.81,104.92 1491.99,104.82 1494.16,104.68 1496.33,104.85 1498.51,104.65 1500.68,104.67 1502.85,104.68 1505.03,104.49 1507.2,104.24 1509.37,104.64 1511.55,104.63 1513.72,105.15 1515.89,104.39 1518.07,105.23 1520.24,104.98 1522.41,104.34 1524.59,104.1 1526.76,103.56 1528.93,103.62 1531.11,103.59 1533.28,103.31 1535.45,102.94 1537.63,102.6 1539.8,103 1541.97,102.39 1544.15,102.14 1546.32,102.19 1548.49,102.18 1550.67,101.16 1552.84,101.39 1555.01,101.64 1557.19,100.96 1559.36,100.46 1561.53,100.54 1563.71,100.72 1565.88,100.59 1568.05,100.57 1570.23,99.95" fill="none" stroke="#ff1493" stroke-width="3.7" stroke-linejoin="round" stroke-linecap="butt"/>
<path d="M942.13 425.11L943.43 429.1L947.63 429.1L944.23 431.57L945.53 435.56L942.13 433.09L938.74 435.56L940.04 431.57L936.64 429.1L940.84 429.1ZM963.87 320.31L965.16 324.3L969.36 324.3L965.96 326.76L967.26 330.75L963.87 328.29L960.47 330.75L961.77 326.76L958.37 324.3L962.57 324.3ZM985.6 284.42L986.9 288.41L991.09 288.41L987.7 290.88L988.99 294.87L985.6 292.4L982.21 294.87L983.5 290.88L980.11 288.41L984.3 288.41ZM1007.33 244.65L1008.63 248.64L1012.83 248.64L1009.43 251.11L1010.73 255.1L1007.33 252.63L1003.94 255.1L1005.24 251.11L1001.84 248.64L1006.04 248.64ZM1029.07 218.06L1030.36 222.05L1034.56 222.05L1031.16 224.52L1032.46 228.51L1029.07 226.04L1025.67 228.51L1026.97 224.52L1023.57 222.05L1027.77 222.05ZM1050.8 196.42L1052.1 200.41L1056.29 200.41L1052.9 202.87L1054.19 206.86L1050.8 204.4L1047.41 206.86L1048.7 202.87L1045.31 200.41L1049.5 200.41ZM1072.53 179.9L1073.83 183.89L1078.03 183.89L1074.63 186.36L1075.93 190.35L1072.53 187.88L1069.14 190.35L1070.44 186.36L1067.04 183.89L1071.24 183.89ZM1094.27 163.66L1095.56 167.66L1099.76 167.66L1096.36 170.12L1097.66 174.11L1094.27 171.65L1090.87 174.11L1092.17 170.12L1088.77 167.66L1092.97 167.66ZM1116 152.84L1117.3 156.83L1121.49 156.83L1118.1 159.3L1119.39 163.29L1116 160.82L1112.61 163.29L1113.9 159.3L1110.51 156.83L1114.7 156.83ZM1137.73 138.18L1139.03 142.18L1143.23 142.18L1139.83 144.64L1141.13 148.63L1137.73 146.17L1134.34 148.63L1135.64 144.64L1132.24 142.18L1136.44 142.18ZM1159.47 132.02L1160.76 136.01L1164.96 136.01L1161.56 138.48L1162.86 142.47L1159.47 140L1156.07 142.47L1157.37 138.48L1153.97 136.01L1158.17 136.01ZM1181.2 131.26L1182.5 135.25L1186.69 135.25L1183.3 137.71L1184.59 141.7L1181.2 139.24L1177.81 141.7L1179.1 137.71L1175.71 135.25L1179.9 135.25ZM1202.93 122.16L1204.23 126.15L1208.43 126.15L1205.03 128.62L1206.33 132.61L1202.93 130.14L1199.54 132.61L1200.84 128.62L1197.44 126.15L1201.64 126.15ZM1224.67 114.15L1225.96 118.14L1230.16 118.14L1226.76 120.6L1228.06 124.6L1224.67 122.13L1221.27 124.6L1222.57 120.6L1219.17 118.14L1223.37 118.14ZM1246.4 116L1247.7 119.99L1251.89 119.99L1248.5 122.45L1249.79 126.44L1246.4 123.98L1243.01 126.44L1244.3 122.45L1240.91 119.99L1245.1 119.99ZM1268.13 107.98L1269.43 111.98L1273.63 111.98L1270.23 114.44L1271.53 118.43L1268.13 115.97L1264.74 118.43L1266.04 114.44L1262.64 111.98L1266.84 111.98ZM1289.87 107.09L1291.16 111.08L1295.36 111.08L1291.96 113.55L1293.26 117.54L1289.87 115.07L1286.47 117.54L1287.77 113.55L1284.37 111.08L1288.57 111.08ZM1311.6 106.47L1312.9 110.47L1317.09 110.47L1313.7 112.93L1314.99 116.92L1311.6 114.46L1308.21 116.92L1309.5 112.93L1306.11 110.47L1310.3 110.47ZM1333.33 103.39L1334.63 107.38L1338.83 107.38L1335.43 109.85L1336.73 113.84L1333.33 111.37L1329.94 113.84L1331.24 109.85L1327.84 107.38L1332.04 107.38ZM1355.07 100.31L1356.36 104.3L1360.56 104.3L1357.16 106.77L1358.46 110.76L1355.07 108.29L1351.67 110.76L1352.97 106.77L1349.57 104.3L1353.77 104.3ZM1376.8 98.46L1378.1 102.45L1382.29 102.45L1378.9 104.92L1380.19 108.91L1376.8 106.44L1373.41 108.91L1374.7 104.92L1371.31 102.45L1375.5 102.45ZM1398.53 96.61L1399.83 100.6L1404.03 100.6L1400.63 103.07L1401.93 107.06L1398.53 104.59L1395.14 107.06L1396.44 103.07L1393.04 100.6L1397.24 100.6ZM1420.27 95.38L1421.56 99.37L1425.76 99.37L1422.36 101.84L1423.66 105.83L1420.27 103.36L1416.87 105.83L1418.17 101.84L1414.77 99.37L1418.97 99.37ZM1442 96L1443.3 99.99L1447.49 99.99L1444.1 102.45L1445.39 106.44L1442 103.98L1438.61 106.44L1439.9 102.45L1436.51 99.99L1440.7 99.99ZM1463.73 97.23L1465.03 101.22L1469.23 101.22L1465.83 103.69L1467.13 107.68L1463.73 105.21L1460.34 107.68L1461.64 103.69L1458.24 101.22L1462.44 101.22ZM1485.47 98.46L1486.76 102.45L1490.96 102.45L1487.56 104.92L1488.86 108.91L1485.47 106.44L1482.07 108.91L1483.37 104.92L1479.97 102.45L1484.17 102.45ZM1507.2 98.46L1508.5 102.45L1512.69 102.45L1509.3 104.92L1510.59 108.91L1507.2 106.44L1503.81 108.91L1505.1 104.92L1501.71 102.45L1505.9 102.45ZM1528.93 97.85L1530.23 101.84L1534.43 101.84L1531.03 104.3L1532.33 108.29L1528.93 105.83L1525.54 108.29L1526.84 104.3L1523.44 101.84L1527.64 101.84ZM1550.67 95.38L1551.96 99.37L1556.16 99.37L1552.76 101.84L1554.06 105.83L1550.67 103.36L1547.27 105.83L1548.57 101.84L1545.17 99.37L1549.37 99.37Z" fill="#ff1493" stroke="#ff1493" stroke-width="1.93" stroke-linejoin="bevel"/>
<polyline points="920.4,760.4 922.57,760.4 924.75,760.4 926.92,760.4 929.09,760.4 931.27,713.41 933.44,599.49 935.61,536.83 937.79,492.97 939.96,474.18 942.13,438.29 944.31,421.49 946.48,398.7 948.65,383.04 950.83,373.16 953,360.26 955.17,360.71 957.35,347.16 959.52,344.87 961.69,335.9 963.87,324.94 966.04,325.8 968.21,316.6 970.39,303.42 972.56,304.15 974.73,298.2 976.91,306.58 979.08,305.57 981.25,296.01 983.43,298.09 985.6,289.06 987.77,283.51 989.95,278.97 992.12,269.24 994.29,271.4 996.47,268.44 998.64,259.56 1000.81,257.14 1002.99,256.59 1005.16,250.73 1007.33,241.78 1009.51,246.34 1011.68,247.11 1013.85,238.92 1016.03,243.52 1018.2,239.15 1020.37,234.66 1022.55,230.52 1024.72,234.15 1026.89,223.2 1029.07,222.7 1031.24,219.27 1033.41,219.51 1035.59,216.29 1037.76,218.87 1039.93,211.54 1042.11,207.32 1044.28,206.98 1046.45,203.44 1048.63,204.7 1050.8,201.05 1052.97,191.84 1055.15,201.62 1057.32,199.07 1059.49,192.09 1061.67,192.6 1063.84,193.28 1066.01,189.5 1068.19,182.66 1070.36,184.55 1072.53,184.53 1074.71,178.8 1076.88,180.3 1079.05,177.81 1081.23,177.79 1083.4,175.5 1085.57,176.37 1087.75,168.16 1089.92,167.67 1092.09,164.19 1094.27,168.3 1096.44,168.73 1098.61,166.72 1100.79,167.15 1102.96,166.33 1105.13,165.48 1107.31,162.66 1109.48,160.94 1111.65,159.19 1113.83,157.51 1116,157.48 1118.17,154.16 1120.35,153.82 1122.52,150 1124.69,151.04 1126.87,150.12 1129.04,150.93 1131.21,142.65 1133.39,142.38 1135.56,140.44 1137.73,141.49 1139.91,142.24 1142.08,143.36 1144.25,142.11 1146.43,143.33 1148.6,143.5 1150.77,143.96 1152.95,143.42 1155.12,143.51 1157.29,141.39 1159.47,140.26 1161.64,139.38 1163.81,139.43 1165.99,137.37 1168.16,136.54 1170.33,136.84 1172.51,136.99 1174.68,134.61 1176.85,133.96 1179.03,134.19 1181.2,131.02 1183.37,130.78 1185.55,129.97 1187.72,129.92 1189.89,130.56 1192.07,130.74 1194.24,129.6 1196.41,127.13 1198.59,127.27 1200.76,127.42 1202.93,126.09 1205.11,125.4 1207.28,125.2 1209.45,125.56 1211.63,126.15 1213.8,125.47 1215.97,124.99 1218.15,125 1220.32,123.68 1222.49,123.47 1224.67,124.24 1226.84,124.37 1229.01,122.93 1231.19,123.57 1233.36,123.47 1235.53,124.24 1237.71,123.47 1239.88,123.18 1242.05,121.92 1244.23,121.56 1246.4,121.77 1248.57,121.38 1250.75,120.67 1252.92,122.58 1255.09,121.75 1257.27,121.77 1259.44,119.83 1261.61,119.62 1263.79,120.84 1265.96,118.6 1268.13,118.07 1270.31,119.03 1272.48,118.87 1274.65,119.67 1276.83,120.21 1279,120.3 1281.17,120.83 1283.35,120.05 1285.52,118.98 1287.69,118.64 1289.87,117.18 1292.04,116.44 1294.21,117.45 1296.39,118.07 1298.56,118.23 1300.73,117.55 1302.91,117.75 1305.08,117.44 1307.25,116.9 1309.43,116.23 1311.6,116.19 1313.77,116.06 1315.95,115.55 1318.12,116.52 1320.29,116.94 1322.47,116.14 1324.64,115.56 1326.81,114.25 1328.99,113.91 1331.16,113.43 1333.33,113.48 1335.51,112.88 1337.68,113.32 1339.85,113.06 1342.03,112.84 1344.2,112.87 1346.37,112.1 1348.55,111.92 1350.72,111.77 1352.89,110.7 1355.07,110.4 1357.24,109.63 1359.41,110.5 1361.59,111.27 1363.76,111.1 1365.93,111.63 1368.11,110.81 1370.28,110.64 1372.45,110.06 1374.63,109.71 1376.8,109.17 1378.97,110.74 1381.15,110.13 1383.32,110.25 1385.49,111.17 1387.67,110.92 1389.84,110.69 1392.01,110.24 1394.19,109.87 1396.36,110.5 1398.53,109.17 1400.71,109.74 1402.88,109.69 1405.05,109.77 1407.23,109.85 1409.4,110.4 1411.57,110.52 1413.75,109.33 1415.92,108.77 1418.09,108.73 1420.27,108.55 1422.44,108.89 1424.61,109.47 1426.79,110.4 1428.96,109.77 1431.13,110.4 1433.31,109.88 1435.48,110.08 1437.65,109.85 1439.83,109.23 1442,109.17 1444.17,109.57 1446.35,110.17 1448.52,109.36 1450.69,109.3 1452.87,110.4 1455.04,110.03 1457.21,109.95 1459.39,109.48 1461.56,109.67 1463.73,109.17 1465.91,109.63 1468.08,109.76 1470.25,109.74 1472.43,110.58 1474.6,111.02 1476.77,110.65 1478.95,110.39 1481.12,109.88 1483.29,110.25 1485.47,109.17 1487.64,109.49 1489.81,109.54 1491.99,109.84 1494.16,109.79 1496.33,110.4 1498.51,110.17 1500.68,110.07 1502.85,109.96 1505.03,109.85 1507.2,109.17 1509.37,108.85 1511.55,109.4 1513.72,110 1515.89,109.72 1518.07,110.21 1520.24,110.44 1522.41,110.13 1524.59,109.65 1526.76,109.44 1528.93,109.17 1531.11,109.53 1533.28,109.35 1535.45,109.79 1537.63,110.21 1539.8,110.4 1541.97,109.96 1544.15,109.58 1546.32,109.41 1548.49,108.89 1550.67,108.55 1552.84,108.87 1555.01,109.58 1557.19,110.38 1559.36,110.19 1561.53,111.02 1563.71,111.04 1565.88,110.86 1568.05,110.32 1570.23,110.49" fill="none" stroke="#00bfff" stroke-width="3.7" stroke-linejoin="round" stroke-linecap="butt"/>
<path d="M942.13 432.52L947.13 435.4L947.13 441.18L942.13 444.07L937.13 441.18L937.13 435.4ZM963.87 319.17L968.87 322.05L968.87 327.83L963.87 330.72L958.87 327.83L958.87 322.05ZM985.6 283.28L990.6 286.17L990.6 291.94L985.6 294.83L980.6 291.94L980.6 286.17ZM1007.33 236L1012.33 238.89L1012.33 244.67L1007.33 247.55L1002.33 244.67L1002.33 238.89ZM1029.07 216.92L1034.07 219.81L1034.07 225.59L1029.07 228.47L1024.07 225.59L1024.07 219.81ZM1050.8 195.28L1055.8 198.17L1055.8 203.94L1050.8 206.83L1045.8 203.94L1045.8 198.17ZM1072.53 178.76L1077.53 181.65L1077.53 187.42L1072.53 190.31L1067.53 187.42L1067.53 181.65ZM1094.27 162.53L1099.27 165.41L1099.27 171.19L1094.27 174.08L1089.27 171.19L1089.27 165.41ZM1116 151.7L1121 154.59L1121 160.37L1116 163.25L1111 160.37L1111 154.59ZM1137.73 135.72L1142.73 138.61L1142.73 144.38L1137.73 147.27L1132.73 144.38L1132.73 138.61ZM1159.47 134.49L1164.47 137.37L1164.47 143.15L1159.47 146.04L1154.47 143.15L1154.47 137.37ZM1181.2 125.24L1186.2 128.13L1186.2 133.9L1181.2 136.79L1176.2 133.9L1176.2 128.13ZM1202.93 120.31L1207.93 123.2L1207.93 128.97L1202.93 131.86L1197.93 128.97L1197.93 123.2ZM1224.67 118.46L1229.67 121.35L1229.67 127.12L1224.67 130.01L1219.67 127.12L1219.67 121.35ZM1246.4 116L1251.4 118.88L1251.4 124.66L1246.4 127.55L1241.4 124.66L1241.4 118.88ZM1268.13 112.3L1273.13 115.19L1273.13 120.96L1268.13 123.85L1263.13 120.96L1263.13 115.19ZM1289.87 111.41L1294.87 114.29L1294.87 120.07L1289.87 122.96L1284.87 120.07L1284.87 114.29ZM1311.6 110.42L1316.6 113.31L1316.6 119.08L1311.6 121.97L1306.6 119.08L1306.6 113.31ZM1333.33 107.71L1338.33 110.59L1338.33 116.37L1333.33 119.26L1328.33 116.37L1328.33 110.59ZM1355.07 104.63L1360.07 107.51L1360.07 113.29L1355.07 116.18L1350.07 113.29L1350.07 107.51ZM1376.8 103.39L1381.8 106.28L1381.8 112.06L1376.8 114.94L1371.8 112.06L1371.8 106.28ZM1398.53 103.39L1403.53 106.28L1403.53 112.06L1398.53 114.94L1393.53 112.06L1393.53 106.28ZM1420.27 102.78L1425.27 105.66L1425.27 111.44L1420.27 114.33L1415.27 111.44L1415.27 105.66ZM1442 103.39L1447 106.28L1447 112.06L1442 114.94L1437 112.06L1437 106.28ZM1463.73 103.39L1468.73 106.28L1468.73 112.06L1463.73 114.94L1458.73 112.06L1458.73 106.28ZM1485.47 103.39L1490.47 106.28L1490.47 112.06L1485.47 114.94L1480.47 112.06L1480.47 106.28ZM1507.2 103.39L1512.2 106.28L1512.2 112.06L1507.2 114.94L1502.2 112.06L1502.2 106.28ZM1528.93 103.39L1533.93 106.28L1533.93 112.06L1528.93 114.94L1523.93 112.06L1523.93 106.28ZM1550.67 102.78L1555.67 105.66L1555.67 111.44L1550.67 114.33L1545.67 111.44L1545.67 105.66Z" fill="#00bfff" stroke="#00bfff" stroke-width="1.93" stroke-linejoin="miter"/>
<polyline points="920.4,760.4 922.57,760.4 924.75,760.4 926.92,760.4 929.09,760.4 931.27,710.56 933.44,596.64 935.61,533.98 937.79,490.12 939.96,471.33 942.13,460.51 944.31,424.91 946.48,402.12 948.65,386.46 950.83,373.39 953,363.67 955.17,360.59 957.35,350.57 959.52,342.97 961.69,329.55 963.87,328.36 966.04,322.94 968.21,318.23 970.39,311.62 972.56,307.57 974.73,311.25 976.91,324.54 979.08,324.66 981.25,311.03 983.43,310.25 985.6,292.47 987.77,292.39 989.95,279.92 992.12,275.62 994.29,274.82 996.47,276.04 998.64,266.49 1000.81,257.5 1002.99,260.01 1005.16,255.55 1007.33,247.55 1009.51,249.75 1011.68,248.89 1013.85,247.58 1016.03,241.38 1018.2,242.18 1020.37,238.08 1022.55,235.18 1024.72,235.2 1026.89,231.28 1029.07,226.12 1031.24,222.14 1033.41,224.31 1035.59,220.13 1037.76,225.81 1039.93,211.53 1042.11,204.39 1044.28,210.14 1046.45,208.02 1048.63,206.64 1050.8,204.47 1052.97,201.95 1055.15,206.65 1057.32,205.7 1059.49,194.7 1061.67,186.3 1063.84,190.41 1066.01,190.44 1068.19,184.64 1070.36,184.85 1072.53,187.95 1074.71,184.88 1076.88,188.1 1079.05,187.14 1081.23,182.64 1083.4,186.57 1085.57,181.44 1087.75,177.19 1089.92,173.29 1092.09,172.95 1094.27,171.72 1096.44,170.54 1098.61,165.58 1100.79,165.89 1102.96,165.86 1105.13,166.73 1107.31,160.51 1109.48,168.56 1111.65,163.11 1113.83,162.28 1116,160.9 1118.17,159.35 1120.35,158.75 1122.52,153.31 1124.69,154.75 1126.87,152.59 1129.04,154.35 1131.21,153.53 1133.39,152.63 1135.56,153.82 1137.73,152.11 1139.91,152.65 1142.08,153.37 1144.25,155.05 1146.43,147.89 1148.6,142.35 1150.77,146.43 1152.95,146.35 1155.12,144.37 1157.29,143.96 1159.47,142.91 1161.64,142.73 1163.81,142.34 1165.99,141.75 1168.16,141.35 1170.33,140.72 1172.51,138.58 1174.68,137.8 1176.85,133.86 1179.03,131.63 1181.2,132.25 1183.37,134.1 1185.55,132.9 1187.72,133.97 1189.89,134.07 1192.07,131.93 1194.24,132.87 1196.41,133.05 1198.59,134.08 1200.76,134.1 1202.93,131.79 1205.11,130.26 1207.28,128.6 1209.45,127.69 1211.63,128.23 1213.8,125.47 1215.97,126.22 1218.15,127.94 1220.32,126.92 1222.49,126.09 1224.67,125.79 1226.84,127.12 1229.01,126.27 1231.19,126.7 1233.36,126.96 1235.53,127.97 1237.71,127.55 1239.88,127.59 1242.05,128.52 1244.23,128.4 1246.4,127.36 1248.57,126.77 1250.75,126.18 1252.92,124.37 1255.09,124.24 1257.27,123.98 1259.44,124.62 1261.61,126.37 1263.79,125.27 1265.96,125.47 1268.13,124.58 1270.31,125.19 1272.48,125.81 1274.65,125.57 1276.83,124.68 1279,125.66 1281.17,124.62 1283.35,124.6 1285.52,124.61 1287.69,124.58 1289.87,123.45 1292.04,124.05 1294.21,123.51 1296.39,123.11 1298.56,123.09 1300.73,122.73 1302.91,122.44 1305.08,122.26 1307.25,120.97 1309.43,119.65 1311.6,119.34 1313.77,119.35 1315.95,120.04 1318.12,120.25 1320.29,119.41 1322.47,120.6 1324.64,120.95 1326.81,119.92 1328.99,119.56 1331.16,119.03 1333.33,119.22 1335.51,119.02 1337.68,118.5 1339.85,118.37 1342.03,118.28 1344.2,118.41 1346.37,118.19 1348.55,118.17 1350.72,117.96 1352.89,117.8 1355.07,117.81 1357.24,117.81 1359.41,118.09 1361.59,119.13 1363.76,119.41 1365.93,119.03 1368.11,118.35 1370.28,118.49 1372.45,118.02 1374.63,117.8 1376.8,117.34 1378.97,116.98 1381.15,117.04 1383.32,117.27 1385.49,115.96 1387.67,116.55 1389.84,116.89 1392.01,116.49 1394.19,116.14 1396.36,116.92 1398.53,117.33 1400.71,116.64 1402.88,117.34 1405.05,117.18 1407.23,117.07 1409.4,116.81 1411.57,117.15 1413.75,116.54 1415.92,116.66 1418.09,116.56 1420.27,116.56 1422.44,117.37 1424.61,117.01 1426.79,116.77 1428.96,115.93 1431.13,116.06 1433.31,115.94 1435.48,115.11 1437.65,114.52 1439.83,114.71 1442,114.71 1444.17,115.54 1446.35,115.43 1448.52,115.9 1450.69,116.28 1452.87,116.56 1455.04,116.54 1457.21,116.06 1459.39,115.48 1461.56,115.93 1463.73,115.33 1465.91,115.65 1468.08,115.7 1470.25,116.22 1472.43,116.02 1474.6,115.95 1476.77,116 1478.95,115.86 1481.12,115.4 1483.29,115.17 1485.47,114.71 1487.64,114.78 1489.81,114.98 1491.99,114.54 1494.16,115.03 1496.33,114.71 1498.51,114.43 1500.68,114.57 1502.85,114.42 1505.03,114.27 1507.2,114.71 1509.37,115.03 1511.55,115.11 1513.72,114.53 1515.89,114.59 1518.07,114.7 1520.24,114.31 1522.41,114.56 1524.59,114.92 1526.76,114.67 1528.93,114.71 1531.11,115.01 1533.28,114.54 1535.45,115.18 1537.63,115.62 1539.8,115.95 1541.97,115.58 1544.15,115.44 1546.32,115.05 1548.49,115.14 1550.67,114.71 1552.84,114.72 1555.01,115.04 1557.19,115.42 1559.36,115.22 1561.53,115.33 1563.71,115.37 1565.88,114.97 1568.05,114.75 1570.23,114.76" fill="none" stroke="#ff6347" stroke-width="3.7" stroke-linejoin="round" stroke-linecap="butt"/>
<path d="M942.13 460.51L947.91 460.51M942.13 460.51L939.25 455.89M942.13 460.51L939.25 465.13M963.87 328.36L969.64 328.36M963.87 328.36L960.98 323.74M963.87 328.36L960.98 332.98M985.6 292.47L991.38 292.47M985.6 292.47L982.71 287.85M985.6 292.47L982.71 297.09M1007.33 247.55L1013.11 247.55M1007.33 247.55L1004.45 242.93M1007.33 247.55L1004.45 252.17M1029.07 226.12L1034.84 226.12M1029.07 226.12L1026.18 221.5M1029.07 226.12L1026.18 230.74M1050.8 204.47L1056.58 204.47M1050.8 204.47L1047.91 199.85M1050.8 204.47L1047.91 209.09M1072.53 187.95L1078.31 187.95M1072.53 187.95L1069.65 183.33M1072.53 187.95L1069.65 192.57M1094.27 171.72L1100.04 171.72M1094.27 171.72L1091.38 167.1M1094.27 171.72L1091.38 176.34M1116 160.9L1121.78 160.9M1116 160.9L1113.11 156.28M1116 160.9L1113.11 165.52M1137.73 152.11L1143.51 152.11M1137.73 152.11L1134.85 147.49M1137.73 152.11L1134.85 156.73M1159.47 142.91L1165.24 142.91M1159.47 142.91L1156.58 138.29M1159.47 142.91L1156.58 147.53M1181.2 132.25L1186.98 132.25M1181.2 132.25L1178.31 127.63M1181.2 132.25L1178.31 136.87M1202.93 131.79L1208.71 131.79M1202.93 131.79L1200.05 127.17M1202.93 131.79L1200.05 136.41M1224.67 125.79L1230.44 125.79M1224.67 125.79L1221.78 121.17M1224.67 125.79L1221.78 130.41M1246.4 127.36L1252.18 127.36M1246.4 127.36L1243.51 122.74M1246.4 127.36L1243.51 131.98M1268.13 124.58L1273.91 124.58M1268.13 124.58L1265.25 119.96M1268.13 124.58L1265.25 129.2M1289.87 123.45L1295.64 123.45M1289.87 123.45L1286.98 118.83M1289.87 123.45L1286.98 128.07M1311.6 119.34L1317.38 119.34M1311.6 119.34L1308.71 114.72M1311.6 119.34L1308.71 123.96M1333.33 119.22L1339.11 119.22M1333.33 119.22L1330.45 114.6M1333.33 119.22L1330.45 123.84M1355.07 117.81L1360.84 117.81M1355.07 117.81L1352.18 113.19M1355.07 117.81L1352.18 122.43M1376.8 117.34L1382.58 117.34M1376.8 117.34L1373.91 112.72M1376.8 117.34L1373.91 121.96M1398.53 117.33L1404.31 117.33M1398.53 117.33L1395.65 112.71M1398.53 117.33L1395.65 121.95M1420.27 116.56L1426.04 116.56M1420.27 116.56L1417.38 111.94M1420.27 116.56L1417.38 121.18M1442 114.71L1447.78 114.71M1442 114.71L1439.11 110.09M1442 114.71L1439.11 119.33M1463.73 115.33L1469.51 115.33M1463.73 115.33L1460.85 110.71M1463.73 115.33L1460.85 119.95M1485.47 114.71L1491.24 114.71M1485.47 114.71L1482.58 110.09M1485.47 114.71L1482.58 119.33M1507.2 114.71L1512.98 114.71M1507.2 114.71L1504.31 110.09M1507.2 114.71L1504.31 119.33M1528.93 114.71L1534.71 114.71M1528.93 114.71L1526.05 110.09M1528.93 114.71L1526.05 119.33M1550.67 114.71L1556.44 114.71M1550.67 114.71L1547.78 110.09M1550.67 114.71L1547.78 119.33" fill="none" stroke="#ff6347" stroke-width="1.93" stroke-linejoin="miter"/>
</g>
<path d="M920.4 724.8V717.2M1137.73 724.8V717.2M1355.07 724.8V717.2M1572.4 724.8V717.2M920.4 724.8H928M920.4 582.4H928M920.4 440H928M920.4 297.6H928M920.4 155.2H928M920.4 12.8H928" stroke="#000" stroke-width="2.5" fill="none"/>
<rect x="920.4" y="12.8" width="652" height="712" fill="none" stroke="#000" stroke-width="3.8"/>
<text class="t" x="920" y="759.4" text-anchor="middle">0</text>
<text class="t" x="1137.33" y="759.4" text-anchor="middle">100</text>
<text class="t" x="1354.67" y="759.4" text-anchor="middle">200</text>
<text class="t" x="1572" y="759.4" text-anchor="middle">300</text>
<text class="t" x="911.4" y="738.3" text-anchor="end">0.40</text>
<text class="t" x="911.4" y="595.9" text-anchor="end">0.45</text>
<text class="t" x="911.4" y="453.5" text-anchor="end">0.50</text>
<text class="t" x="911.4" y="311.1" text-anchor="end">0.55</text>
<text class="t" x="911.4" y="168.7" text-anchor="end">0.60</text>
<text class="t" x="911.4" y="26.3" text-anchor="end">0.65</text>
<text x="1246.4" y="802.8" text-anchor="middle">epochs</text>
<text transform="translate(829 369.8) rotate(-90)" text-anchor="middle">mAP@0.50:0.95</text>
<rect x="1317.85" y="367.2" width="235.1" height="338.1" rx="6.8" fill="#fff" fill-opacity="0.8" stroke="#cbcbcb" stroke-opacity="0.85" stroke-width="2.6"/>
<path d="M1331.75 396.2H1412.45" stroke="#ff6347" stroke-width="3.7" fill="none"/>
<path d="M1372.1 390.43L1377.59 394.42L1375.49 400.87L1368.71 400.87L1366.61 394.42Z" fill="#ff6347" stroke="#ff6347" stroke-width="1.93" stroke-linejoin="miter"/>
<text x="1441.4" y="409.6">EIoU</text>
<path d="M1331.75 450.7H1412.45" stroke="#00bfff" stroke-width="3.7" fill="none"/>
<path d="M1366.33 444.93L1377.88 444.93L1377.88 456.47L1366.33 456.47Z" fill="#00bfff" stroke="#00bfff" stroke-width="1.93" stroke-linejoin="miter"/>
<text x="1441.4" y="464.1">CIoU</text>
<path d="M1331.75 505.2H1412.45" stroke="#00ff7f" stroke-width="3.7" fill="none"/>
<path d="M1372.1 499.43L1366.33 510.97L1377.88 510.97Z" fill="#00ff7f" stroke="#00ff7f" stroke-width="1.93" stroke-linejoin="miter"/>
<text x="1441.4" y="518.6">DIoU</text>
<path d="M1331.75 559.7H1412.45" stroke="#ff1493" stroke-width="3.7" fill="none"/>
<path d="M1372.1 553.93L1373.4 557.92L1377.59 557.92L1374.2 560.38L1375.49 564.37L1372.1 561.91L1368.71 564.37L1370 560.38L1366.61 557.92L1370.8 557.92Z" fill="#ff1493" stroke="#ff1493" stroke-width="1.93" stroke-linejoin="bevel"/>
<text x="1441.4" y="573.1">GIoU</text>
<path d="M1331.75 614.2H1412.45" stroke="#00bfff" stroke-width="3.7" fill="none"/>
<path d="M1372.1 608.43L1377.1 611.31L1377.1 617.09L1372.1 619.98L1367.1 617.09L1367.1 611.31Z" fill="#00bfff" stroke="#00bfff" stroke-width="1.93" stroke-linejoin="miter"/>
<text x="1441.4" y="627.6">SIoU</text>
<path d="M1331.75 668.7H1412.45" stroke="#ff6347" stroke-width="3.7" fill="none"/>
<path d="M1372.1 668.7L1377.88 668.7M1372.1 668.7L1369.21 664.08M1372.1 668.7L1369.21 673.32" fill="none" stroke="#ff6347" stroke-width="1.93" stroke-linejoin="miter"/>
<text x="1441.4" y="682.1">WIoU</text>
</svg>
</body>
</html>
